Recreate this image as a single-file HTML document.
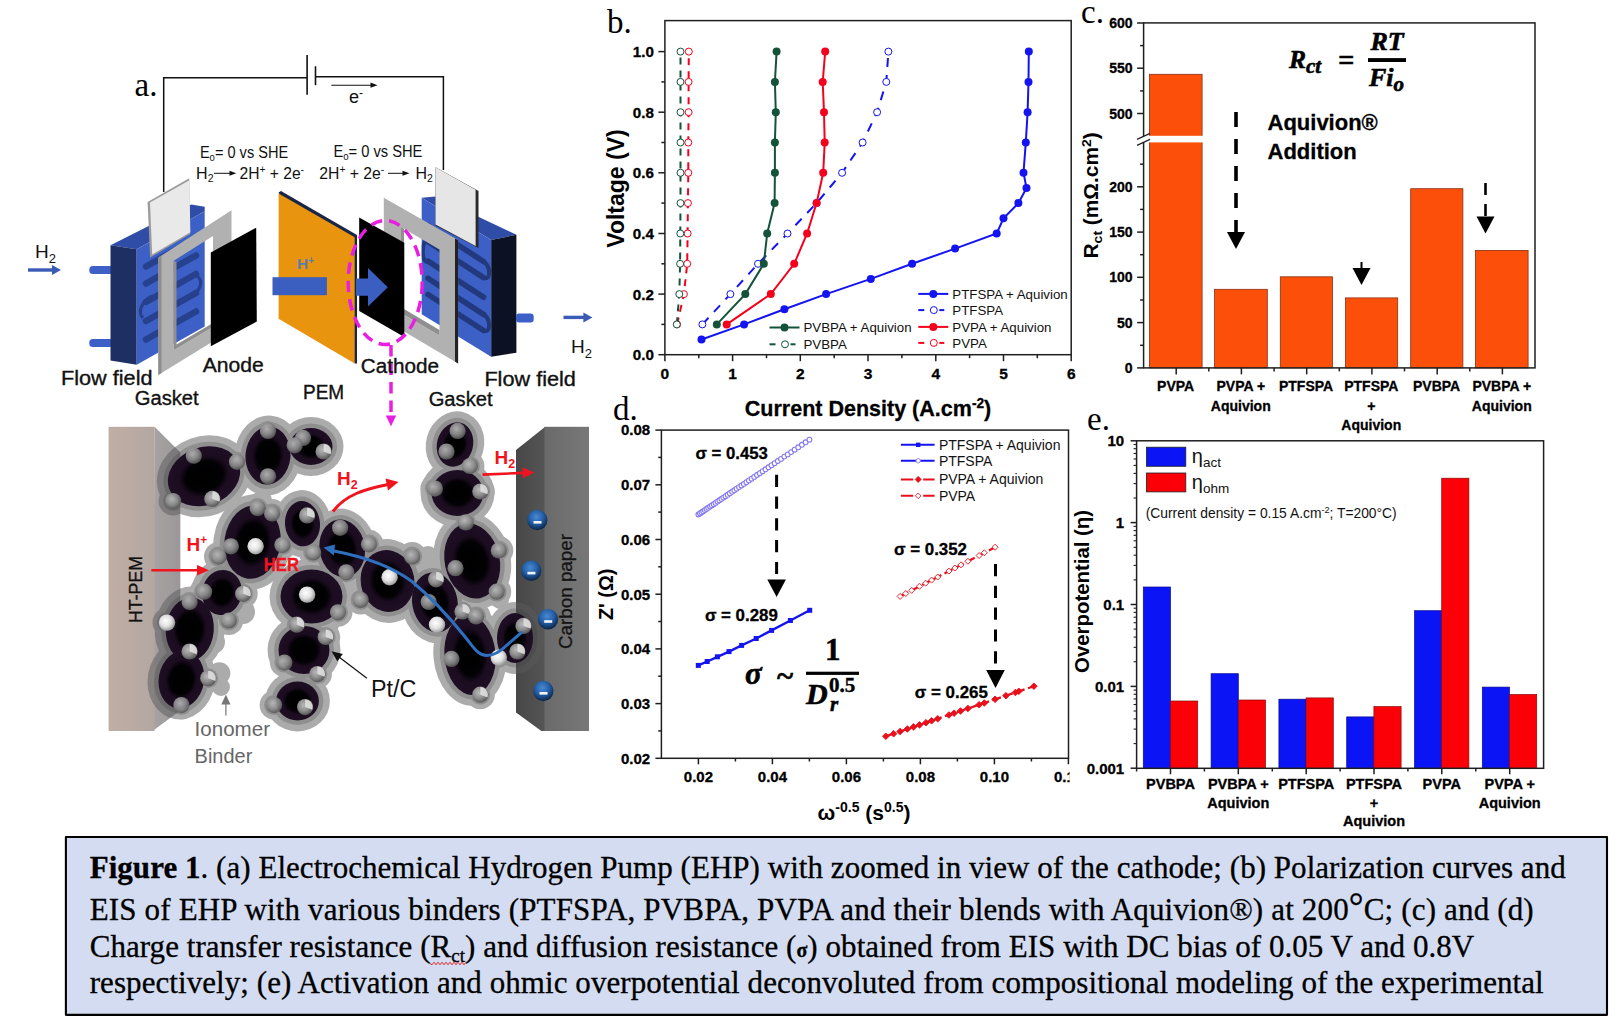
<!DOCTYPE html>
<html lang="en"><head><meta charset="utf-8"><title>Figure 1</title>
<style>
html,body{margin:0;padding:0;background:#fff;}
body{width:1617px;height:1019px;overflow:hidden;font-family:"Liberation Sans", sans-serif;}
svg{display:block;}
text{white-space:pre;}
</style></head><body>
<svg width="1617" height="1019" viewBox="0 0 1617 1019">
<rect x="0" y="0" width="1617" height="1019" fill="#ffffff"/>
<g id="panel-a">
<defs>
<radialGradient id="gC" cx="50%" cy="50%" r="50%"><stop offset="0" stop-color="#000"/><stop offset="0.5" stop-color="#020103"/><stop offset="0.68" stop-color="#1b0c20"/><stop offset="1" stop-color="#1f0f24"/></radialGradient>
<radialGradient id="gPt" cx="42%" cy="38%" r="60%"><stop offset="0" stop-color="#b9b9b9"/><stop offset="0.6" stop-color="#8d8d8d"/><stop offset="1" stop-color="#5c5c5c"/></radialGradient>
<radialGradient id="gPtB" cx="42%" cy="40%" r="60%"><stop offset="0" stop-color="#ffffff"/><stop offset="0.55" stop-color="#e2e2e2"/><stop offset="1" stop-color="#9a9a9a"/></radialGradient>
<radialGradient id="gE" cx="45%" cy="35%" r="65%"><stop offset="0" stop-color="#4a89d2"/><stop offset="0.5" stop-color="#2562ab"/><stop offset="1" stop-color="#0b2446"/></radialGradient>
<linearGradient id="gHT" x1="0" x2="1" y1="0" y2="0"><stop offset="0" stop-color="#c0aea4"/><stop offset="1" stop-color="#b3a7a2"/></linearGradient>
<linearGradient id="gHTs" x1="0" x2="1" y1="0" y2="0"><stop offset="0" stop-color="#a8a3a2"/><stop offset="1" stop-color="#9b9799"/></linearGradient>
<linearGradient id="gCP" x1="0" x2="1" y1="0" y2="0"><stop offset="0" stop-color="#6a6a6a"/><stop offset="1" stop-color="#787878"/></linearGradient>
<linearGradient id="gCPs" x1="0" x2="1" y1="0" y2="0"><stop offset="0" stop-color="#474747"/><stop offset="1" stop-color="#555555"/></linearGradient>
</defs>
<text x="134.5" y="95.7" font-size="33" font-weight="normal" text-anchor="start" fill="#000" font-family='"Liberation Serif", serif' >a.</text>
<polyline points="163.7,192 163.7,77.8 307.1,77.8" fill="none" stroke="#111" stroke-width="1.5"/>
<polyline points="315.5,76.8 443.4,76.8 443.4,170" fill="none" stroke="#111" stroke-width="1.5"/>
<line x1="307.1" y1="55.1" x2="307.1" y2="94.7" stroke="#111" stroke-width="1.6" />
<line x1="315.5" y1="66.3" x2="315.5" y2="85.2" stroke="#111" stroke-width="1.6" />
<line x1="331.3" y1="85.2" x2="372.0" y2="85.2" stroke="#111" stroke-width="1.1" />
<polygon points="377.6,85.2 370.5,82.6 370.5,87.8" fill="#111" />
<text x="349" y="103" font-size="18" font-family='"Liberation Sans", sans-serif' fill="#111">e<tspan dy="-6" font-size="12">-</tspan></text>
<text x="199.9" y="158.4" font-size="16" font-family='"Liberation Sans", sans-serif' fill="#111" textLength="88.3" lengthAdjust="spacingAndGlyphs">E<tspan dy="3" font-size="10.5">o</tspan><tspan dy="-3">= 0 vs SHE</tspan></text>
<text x="333.4" y="156.7" font-size="16" font-family='"Liberation Sans", sans-serif' fill="#111" textLength="89" lengthAdjust="spacingAndGlyphs">E<tspan dy="3" font-size="10.5">o</tspan><tspan dy="-3">= 0 vs SHE</tspan></text>
<text x="196.1" y="178.8" font-size="16" font-family='"Liberation Sans", sans-serif' fill="#111">H<tspan dy="3.5" font-size="10.5">2</tspan></text>
<line x1="214.0" y1="173.3" x2="231.0" y2="173.3" stroke="#111" stroke-width="1.0" />
<polygon points="236.3,173.3 229.5,170.8 229.5,175.8" fill="#111" />
<text x="239.5" y="178.8" font-size="16" font-family='"Liberation Sans", sans-serif' fill="#111" textLength="64.5" lengthAdjust="spacingAndGlyphs">2H<tspan dy="-5.5" font-size="10.5">+</tspan><tspan dy="5.5"> + 2e</tspan><tspan dy="-5.5" font-size="10.5">-</tspan></text>
<text x="319.3" y="178.8" font-size="16" font-family='"Liberation Sans", sans-serif' fill="#111" textLength="65" lengthAdjust="spacingAndGlyphs">2H<tspan dy="-5.5" font-size="10.5">+</tspan><tspan dy="5.5"> + 2e</tspan><tspan dy="-5.5" font-size="10.5">-</tspan></text>
<line x1="388.0" y1="173.3" x2="404.0" y2="173.3" stroke="#111" stroke-width="1.0" />
<polygon points="409.5,173.3 402.5,170.8 402.5,175.8" fill="#111" />
<text x="415.5" y="178.8" font-size="16" font-family='"Liberation Sans", sans-serif' fill="#111">H<tspan dy="3.5" font-size="10.5">2</tspan></text>
<rect x="89.3" y="265.9" width="24" height="8" rx="3.5" fill="#3c60c6"/>
<rect x="89.3" y="339.1" width="24" height="8" rx="3.5" fill="#3c60c6"/>
<polygon points="110.5,245.2 191.3,204.6 204.7,206.7 204.7,211.2 136.7,249.3" fill="#2f4da6" />
<polygon points="110.5,245.2 136.7,249.3 136.7,364.7 110.5,360.6" fill="#1d2f63" />
<polygon points="136.7,249.3 204.7,211.2 204.7,326.6 136.7,364.7" fill="#3c60c6" />
<line x1="146" y1="266.5" x2="196" y2="238.5" stroke="#27418f" stroke-width="6.5" stroke-linecap="round"/>
<line x1="146" y1="283.5" x2="196" y2="255.5" stroke="#27418f" stroke-width="6.5" stroke-linecap="round"/>
<line x1="146" y1="302" x2="196" y2="274" stroke="#27418f" stroke-width="6.5" stroke-linecap="round"/>
<line x1="146" y1="321" x2="196" y2="293" stroke="#27418f" stroke-width="6.5" stroke-linecap="round"/>
<line x1="146" y1="339.5" x2="196" y2="311.5" stroke="#27418f" stroke-width="6.5" stroke-linecap="round"/>
<path d="M143,318 C137,312 142,301 152,296" fill="none" stroke="#27418f" stroke-width="3.2"/>
<path d="M197,276 C204,281 200,291 192,296" fill="none" stroke="#27418f" stroke-width="3.2"/>
<polygon points="147.6,201.9 189.2,178.2 190.2,233.9 150.1,257.6" fill="#9c9c9c" />
<polygon points="150.0,202.6 189.4,180.2 190.3,232.2 152.2,254.6" fill="#e9e9e9" />
<path d="M158.3,257.6 L231.5,210.2 L231.5,330 L158.3,375 Z M173.8,260.7 L173.8,350.3 L213,327 L213,236 Z" fill="#b1b1b1" fill-rule="evenodd"/>
<path d="M158.3,257.6 L161.5,255.5 L161.5,373 L158.3,375 Z" fill="#8d8d8d"/>
<path d="M173.8,350.3 L213,327 L213,323 L176.5,344.5 L176.5,262 L173.8,260.7 Z" fill="#8f8f8f"/>
<polygon points="210.8,252.4 256.2,227.7 256.8,321.5 210.8,346.2" fill="#000" />
<polygon points="278.6,192.4 281.0,191.0 357.0,235.0 357.0,363.5 354.7,363.5" fill="#1a2647" />
<polygon points="278.6,193.6 354.7,237.3 354.7,363.5 278.6,318.8" fill="#e8940e" />
<rect x="272.5" y="277.2" width="54.4" height="18" fill="#3b5fc0"/>
<text x="297" y="269" font-size="15.5" font-weight="bold" font-family='"Liberation Sans", sans-serif' fill="#5d7cab">H<tspan dy="-5" font-size="10">+</tspan></text>
<polygon points="421.7,197.7 435.5,196.4 516.4,234.8 491.2,240.1" fill="#2f4da6" />
<polygon points="421.7,197.7 491.2,240.1 491.2,356.7 421.7,314.3" fill="#3c60c6" />
<polygon points="491.2,240.1 516.4,234.8 516.4,352.8 491.2,356.7" fill="#0c1224" />
<clipPath id="clipRF"><polygon points="421.7,197.7 491.2,240.1 491.2,356.7 421.7,314.3"/></clipPath>
<g clip-path="url(#clipRF)">
<line x1="428" y1="225.5" x2="483.5" y2="261.5" stroke="#22397d" stroke-width="5.6" stroke-linecap="round"/>
<line x1="428" y1="241.6" x2="483.5" y2="277.6" stroke="#22397d" stroke-width="5.6" stroke-linecap="round"/>
<line x1="428" y1="261.2" x2="483.5" y2="297.2" stroke="#22397d" stroke-width="5.6" stroke-linecap="round"/>
<line x1="428" y1="278.3" x2="483.5" y2="314.3" stroke="#22397d" stroke-width="5.6" stroke-linecap="round"/>
<line x1="428" y1="294.5" x2="483.5" y2="330.5" stroke="#22397d" stroke-width="5.6" stroke-linecap="round"/>
<path d="M483.5,261.5 C491,266.3 491,281.3 483.5,277.7" fill="none" stroke="#22397d" stroke-width="4"/>
<path d="M483.5,314.3 C491,319.1 491,334.1 483.5,330.5" fill="none" stroke="#22397d" stroke-width="4"/>
<path d="M428,241.6 C421,237.4 421,265.0 428,261.2" fill="none" stroke="#22397d" stroke-width="4"/>
</g>
<rect x="516" y="313.6" width="17.7" height="8.8" rx="3" fill="#3c60c6"/>
<polygon points="435.5,167.2 478.5,191.1 478.5,248.1 435.5,225.5" fill="#2a2a2a" />
<polygon points="435.5,167.2 475.6,189.7 475.6,246.0 435.5,224.6" fill="#e6e6e6" />
<path d="M383.8,197.7 L458.1,240.1 L458.1,363.4 L383.8,319.6 Z M401,227 L401,313 L439.5,335.5 L439.5,249.4 Z" fill="#b1b1b1" fill-rule="evenodd"/>
<path d="M455.0,238.4 L458.1,240.1 L458.1,363.4 L455.0,361.6 Z" fill="#222"/>
<path d="M401,227 L404,228.8 L404,309 L439.5,330 L439.5,335.5 L401,313 Z" fill="#8f8f8f"/>
<polygon points="359.2,217.6 404.3,242.8 404.3,336.9 359.2,311.1" fill="#000" />
<polygon points="356.0,278.5 368.0,278.5 368.0,268.0 387.8,287.3 368.0,306.4 368.0,295.8 356.0,295.8" fill="#3b5fc0" />
<ellipse cx="385.2" cy="282.5" rx="37" ry="62" fill="none" stroke="#e81fe0" stroke-width="3.5" stroke-dasharray="11.5 7"/>
<line x1="391" y1="345" x2="391" y2="416" stroke="#e81fe0" stroke-width="3.5" stroke-dasharray="11.5 7"/>
<polygon points="385.8,415.5 396.2,415.5 391.0,426.3" fill="#e81fe0" />
<rect x="28" y="268.3" width="26" height="3.4" fill="#3a5cb5"/>
<polygon points="52.0,265.0 61.0,270.0 52.0,275.0" fill="#3a5cb5" />
<rect x="563.5" y="315.7" width="21.899999999999977" height="3.4" fill="#3a5cb5"/>
<polygon points="583.4,312.4 592.4,317.4 583.4,322.4" fill="#3a5cb5" />
<text x="35" y="257.6" font-size="19" font-family='"Liberation Sans", sans-serif' fill="#111">H<tspan dy="5" font-size="13">2</tspan></text>
<text x="571" y="352.5" font-size="19" font-family='"Liberation Sans", sans-serif' fill="#111">H<tspan dy="5" font-size="13">2</tspan></text>
<text x="61.0" y="384.6" font-size="19.5" font-weight="normal" text-anchor="start" fill="#111" font-family='"Liberation Sans", sans-serif' textLength="91.5" lengthAdjust="spacingAndGlyphs" stroke="#111" stroke-width="0.35">Flow field</text>
<text x="134.8" y="404.8" font-size="19.5" font-weight="normal" text-anchor="start" fill="#111" font-family='"Liberation Sans", sans-serif' textLength="63.9" lengthAdjust="spacingAndGlyphs" stroke="#111" stroke-width="0.35">Gasket</text>
<text x="202.8" y="372.2" font-size="19.5" font-weight="normal" text-anchor="start" fill="#111" font-family='"Liberation Sans", sans-serif' textLength="61.0" lengthAdjust="spacingAndGlyphs" stroke="#111" stroke-width="0.35">Anode</text>
<text x="303.0" y="399.0" font-size="19.5" font-weight="normal" text-anchor="start" fill="#111" font-family='"Liberation Sans", sans-serif' textLength="41.2" lengthAdjust="spacingAndGlyphs" stroke="#111" stroke-width="0.35">PEM</text>
<text x="360.7" y="373.0" font-size="19.5" font-weight="normal" text-anchor="start" fill="#111" font-family='"Liberation Sans", sans-serif' textLength="78.3" lengthAdjust="spacingAndGlyphs" stroke="#111" stroke-width="0.35">Cathode</text>
<text x="428.7" y="406.0" font-size="19.5" font-weight="normal" text-anchor="start" fill="#111" font-family='"Liberation Sans", sans-serif' textLength="63.9" lengthAdjust="spacingAndGlyphs" stroke="#111" stroke-width="0.35">Gasket</text>
<text x="484.4" y="386.3" font-size="19.5" font-weight="normal" text-anchor="start" fill="#111" font-family='"Liberation Sans", sans-serif' textLength="91.5" lengthAdjust="spacingAndGlyphs" stroke="#111" stroke-width="0.35">Flow field</text>
</g>
<g id="panel-a-cathode">
<polygon points="154.6,426.8 180.3,452.5 180.3,710.5 152.6,731.0" fill="url(#gHTs)" />
<rect x="108.6" y="426.8" width="46" height="304.2" fill="url(#gHT)"/>
<polygon points="545.2,426.8 516.0,450.0 516.0,712.4 541.4,731.0 545.2,731.0" fill="url(#gCPs)" />
<rect x="544.5" y="426.8" width="44.5" height="304.2" fill="url(#gCP)"/>
<g opacity="0.50">
<ellipse cx="204" cy="476.3" rx="48" ry="40" transform="rotate(-20 204 476.3)" fill="#5a5a5c"/>
<ellipse cx="268" cy="455.5" rx="33.5" ry="40" transform="rotate(5 268 455.5)" fill="#5a5a5c"/>
<ellipse cx="311" cy="446.5" rx="32.5" ry="29.5" transform="rotate(0 311 446.5)" fill="#5a5a5c"/>
<ellipse cx="252.5" cy="542" rx="39" ry="48" transform="rotate(8 252.5 542)" fill="#5a5a5c"/>
<ellipse cx="302.5" cy="523.7" rx="28.5" ry="33.7" transform="rotate(-5 302.5 523.7)" fill="#5a5a5c"/>
<ellipse cx="342.2" cy="548.4" rx="33.7" ry="40" transform="rotate(-10 342.2 548.4)" fill="#5a5a5c"/>
<ellipse cx="222" cy="592.5" rx="30.8" ry="33.7" transform="rotate(10 222 592.5)" fill="#5a5a5c"/>
<ellipse cx="189.8" cy="629.5" rx="35" ry="43" transform="rotate(5 189.8 629.5)" fill="#5a5a5c"/>
<ellipse cx="181.4" cy="679.5" rx="33.7" ry="40" transform="rotate(10 181.4 679.5)" fill="#5a5a5c"/>
<ellipse cx="311.5" cy="596.5" rx="42" ry="38" transform="rotate(0 311.5 596.5)" fill="#5a5a5c"/>
<ellipse cx="304" cy="650" rx="36.5" ry="35" transform="rotate(0 304 650)" fill="#5a5a5c"/>
<ellipse cx="297.5" cy="701" rx="32.4" ry="30.4" transform="rotate(0 297.5 701)" fill="#5a5a5c"/>
<ellipse cx="387.5" cy="581" rx="37.8" ry="42" transform="rotate(-10 387.5 581)" fill="#5a5a5c"/>
<ellipse cx="434.9" cy="602.4" rx="33.7" ry="41" transform="rotate(-10 434.9 602.4)" fill="#5a5a5c"/>
<ellipse cx="470" cy="655" rx="36.6" ry="51" transform="rotate(-5 470 655)" fill="#5a5a5c"/>
<ellipse cx="515" cy="638" rx="29" ry="36" transform="rotate(0 515 638)" fill="#5a5a5c"/>
<ellipse cx="455" cy="444.5" rx="29" ry="33.4" transform="rotate(15 455 444.5)" fill="#5a5a5c"/>
<ellipse cx="457.5" cy="493" rx="37" ry="34" transform="rotate(0 457.5 493)" fill="#5a5a5c"/>
<ellipse cx="472.2" cy="561" rx="38.5" ry="49" transform="rotate(-12 472.2 561)" fill="#5a5a5c"/>
<circle cx="268.0" cy="430.9" r="14.5" fill="#5a5a5c"/>
<circle cx="303.0" cy="437.9" r="14.5" fill="#5a5a5c"/>
<circle cx="323.6" cy="451.5" r="14.5" fill="#5a5a5c"/>
<circle cx="237.0" cy="461.8" r="14.5" fill="#5a5a5c"/>
<circle cx="268.0" cy="476.3" r="14.5" fill="#5a5a5c"/>
<circle cx="193.8" cy="455.7" r="14.5" fill="#5a5a5c"/>
<circle cx="173.1" cy="501.0" r="14.5" fill="#5a5a5c"/>
<circle cx="212.3" cy="498.9" r="14.5" fill="#5a5a5c"/>
<circle cx="257.6" cy="508.0" r="14.5" fill="#5a5a5c"/>
<circle cx="272.1" cy="513.4" r="14.5" fill="#5a5a5c"/>
<circle cx="307.1" cy="515.4" r="14.5" fill="#5a5a5c"/>
<circle cx="340.1" cy="527.8" r="14.5" fill="#5a5a5c"/>
<circle cx="255.6" cy="546.3" r="14.5" fill="#5a5a5c"/>
<circle cx="282.4" cy="545.1" r="14.5" fill="#5a5a5c"/>
<circle cx="230.9" cy="546.3" r="14.5" fill="#5a5a5c"/>
<circle cx="218.5" cy="556.6" r="14.5" fill="#5a5a5c"/>
<circle cx="313.3" cy="552.5" r="14.5" fill="#5a5a5c"/>
<circle cx="346.3" cy="572.3" r="14.5" fill="#5a5a5c"/>
<circle cx="307.1" cy="594.6" r="14.5" fill="#5a5a5c"/>
<circle cx="360.7" cy="599.9" r="14.5" fill="#5a5a5c"/>
<circle cx="389.6" cy="577.3" r="14.5" fill="#5a5a5c"/>
<circle cx="412.2" cy="556.6" r="14.5" fill="#5a5a5c"/>
<circle cx="369.0" cy="544.3" r="14.5" fill="#5a5a5c"/>
<circle cx="457.6" cy="430.9" r="14.5" fill="#5a5a5c"/>
<circle cx="446.5" cy="451.5" r="14.5" fill="#5a5a5c"/>
<circle cx="434.9" cy="488.6" r="14.5" fill="#5a5a5c"/>
<circle cx="480.3" cy="491.5" r="14.5" fill="#5a5a5c"/>
<circle cx="465.8" cy="522.4" r="14.5" fill="#5a5a5c"/>
<circle cx="498.8" cy="550.5" r="14.5" fill="#5a5a5c"/>
<circle cx="455.5" cy="568.2" r="14.5" fill="#5a5a5c"/>
<circle cx="496.7" cy="591.7" r="14.5" fill="#5a5a5c"/>
<circle cx="436.1" cy="579.3" r="14.5" fill="#5a5a5c"/>
<circle cx="437.0" cy="624.7" r="14.5" fill="#5a5a5c"/>
<circle cx="462.5" cy="611.5" r="14.5" fill="#5a5a5c"/>
<circle cx="476.1" cy="616.4" r="14.5" fill="#5a5a5c"/>
<circle cx="451.4" cy="658.9" r="14.5" fill="#5a5a5c"/>
<circle cx="498.8" cy="657.6" r="14.5" fill="#5a5a5c"/>
<circle cx="480.3" cy="694.7" r="14.5" fill="#5a5a5c"/>
<circle cx="523.5" cy="625.9" r="14.5" fill="#5a5a5c"/>
<circle cx="517.4" cy="651.5" r="14.5" fill="#5a5a5c"/>
<circle cx="243.2" cy="593.8" r="14.5" fill="#5a5a5c"/>
<circle cx="204.1" cy="591.7" r="14.5" fill="#5a5a5c"/>
<circle cx="189.6" cy="602.0" r="14.5" fill="#5a5a5c"/>
<circle cx="228.8" cy="620.5" r="14.5" fill="#5a5a5c"/>
<circle cx="167.0" cy="622.6" r="14.5" fill="#5a5a5c"/>
<circle cx="189.6" cy="651.5" r="14.5" fill="#5a5a5c"/>
<circle cx="208.2" cy="678.3" r="14.5" fill="#5a5a5c"/>
<circle cx="181.4" cy="705.1" r="14.5" fill="#5a5a5c"/>
<circle cx="325.7" cy="637.0" r="14.5" fill="#5a5a5c"/>
<circle cx="296.8" cy="624.7" r="14.5" fill="#5a5a5c"/>
<circle cx="338.0" cy="612.3" r="14.5" fill="#5a5a5c"/>
<circle cx="284.4" cy="662.6" r="14.5" fill="#5a5a5c"/>
<circle cx="317.4" cy="674.1" r="14.5" fill="#5a5a5c"/>
<circle cx="305.1" cy="707.1" r="14.5" fill="#5a5a5c"/>
<circle cx="274.1" cy="705.1" r="14.5" fill="#5a5a5c"/>
<circle cx="428.7" cy="602.0" r="14.5" fill="#5a5a5c"/>
<circle cx="294.7" cy="445.3" r="14.5" fill="#5a5a5c"/>
<circle cx="469.9" cy="466.0" r="14.5" fill="#5a5a5c"/>
<circle cx="219.4" cy="673.3" r="11" fill="#5a5a5c"/>
<circle cx="213" cy="642" r="12" fill="#5a5a5c"/>
<circle cx="221" cy="687" r="9" fill="#5a5a5c"/>
<circle cx="243" cy="612" r="12" fill="#5a5a5c"/>
<circle cx="262" cy="500" r="10" fill="#5a5a5c"/>
<circle cx="428" cy="556" r="10" fill="#5a5a5c"/>
<circle cx="500" cy="600" r="9" fill="#5a5a5c"/>
<circle cx="330" cy="625" r="9" fill="#5a5a5c"/>
</g>
<g opacity="0.24">
<ellipse cx="204" cy="476.3" rx="41.5" ry="33.5" transform="rotate(-20 204 476.3)" fill="#3a3a3c"/>
<ellipse cx="268" cy="455.5" rx="27.0" ry="33.5" transform="rotate(5 268 455.5)" fill="#3a3a3c"/>
<ellipse cx="311" cy="446.5" rx="26.0" ry="23.0" transform="rotate(0 311 446.5)" fill="#3a3a3c"/>
<ellipse cx="252.5" cy="542" rx="32.5" ry="41.5" transform="rotate(8 252.5 542)" fill="#3a3a3c"/>
<ellipse cx="302.5" cy="523.7" rx="22.0" ry="27.2" transform="rotate(-5 302.5 523.7)" fill="#3a3a3c"/>
<ellipse cx="342.2" cy="548.4" rx="27.2" ry="33.5" transform="rotate(-10 342.2 548.4)" fill="#3a3a3c"/>
<ellipse cx="222" cy="592.5" rx="24.3" ry="27.2" transform="rotate(10 222 592.5)" fill="#3a3a3c"/>
<ellipse cx="189.8" cy="629.5" rx="28.5" ry="36.5" transform="rotate(5 189.8 629.5)" fill="#3a3a3c"/>
<ellipse cx="181.4" cy="679.5" rx="27.2" ry="33.5" transform="rotate(10 181.4 679.5)" fill="#3a3a3c"/>
<ellipse cx="311.5" cy="596.5" rx="35.5" ry="31.5" transform="rotate(0 311.5 596.5)" fill="#3a3a3c"/>
<ellipse cx="304" cy="650" rx="30.0" ry="28.5" transform="rotate(0 304 650)" fill="#3a3a3c"/>
<ellipse cx="297.5" cy="701" rx="25.9" ry="23.9" transform="rotate(0 297.5 701)" fill="#3a3a3c"/>
<ellipse cx="387.5" cy="581" rx="31.3" ry="35.5" transform="rotate(-10 387.5 581)" fill="#3a3a3c"/>
<ellipse cx="434.9" cy="602.4" rx="27.2" ry="34.5" transform="rotate(-10 434.9 602.4)" fill="#3a3a3c"/>
<ellipse cx="470" cy="655" rx="30.1" ry="44.5" transform="rotate(-5 470 655)" fill="#3a3a3c"/>
<ellipse cx="515" cy="638" rx="22.5" ry="29.5" transform="rotate(0 515 638)" fill="#3a3a3c"/>
<ellipse cx="455" cy="444.5" rx="22.5" ry="26.9" transform="rotate(15 455 444.5)" fill="#3a3a3c"/>
<ellipse cx="457.5" cy="493" rx="30.5" ry="27.5" transform="rotate(0 457.5 493)" fill="#3a3a3c"/>
<ellipse cx="472.2" cy="561" rx="32.0" ry="42.5" transform="rotate(-12 472.2 561)" fill="#3a3a3c"/>
<circle cx="268.0" cy="430.9" r="10" fill="#3a3a3c"/>
<circle cx="303.0" cy="437.9" r="10" fill="#3a3a3c"/>
<circle cx="323.6" cy="451.5" r="10" fill="#3a3a3c"/>
<circle cx="237.0" cy="461.8" r="10" fill="#3a3a3c"/>
<circle cx="268.0" cy="476.3" r="10" fill="#3a3a3c"/>
<circle cx="193.8" cy="455.7" r="10" fill="#3a3a3c"/>
<circle cx="173.1" cy="501.0" r="10" fill="#3a3a3c"/>
<circle cx="212.3" cy="498.9" r="10" fill="#3a3a3c"/>
<circle cx="257.6" cy="508.0" r="10" fill="#3a3a3c"/>
<circle cx="272.1" cy="513.4" r="10" fill="#3a3a3c"/>
<circle cx="307.1" cy="515.4" r="10" fill="#3a3a3c"/>
<circle cx="340.1" cy="527.8" r="10" fill="#3a3a3c"/>
<circle cx="255.6" cy="546.3" r="10" fill="#3a3a3c"/>
<circle cx="282.4" cy="545.1" r="10" fill="#3a3a3c"/>
<circle cx="230.9" cy="546.3" r="10" fill="#3a3a3c"/>
<circle cx="218.5" cy="556.6" r="10" fill="#3a3a3c"/>
<circle cx="313.3" cy="552.5" r="10" fill="#3a3a3c"/>
<circle cx="346.3" cy="572.3" r="10" fill="#3a3a3c"/>
<circle cx="307.1" cy="594.6" r="10" fill="#3a3a3c"/>
<circle cx="360.7" cy="599.9" r="10" fill="#3a3a3c"/>
<circle cx="389.6" cy="577.3" r="10" fill="#3a3a3c"/>
<circle cx="412.2" cy="556.6" r="10" fill="#3a3a3c"/>
<circle cx="369.0" cy="544.3" r="10" fill="#3a3a3c"/>
<circle cx="457.6" cy="430.9" r="10" fill="#3a3a3c"/>
<circle cx="446.5" cy="451.5" r="10" fill="#3a3a3c"/>
<circle cx="434.9" cy="488.6" r="10" fill="#3a3a3c"/>
<circle cx="480.3" cy="491.5" r="10" fill="#3a3a3c"/>
<circle cx="465.8" cy="522.4" r="10" fill="#3a3a3c"/>
<circle cx="498.8" cy="550.5" r="10" fill="#3a3a3c"/>
<circle cx="455.5" cy="568.2" r="10" fill="#3a3a3c"/>
<circle cx="496.7" cy="591.7" r="10" fill="#3a3a3c"/>
<circle cx="436.1" cy="579.3" r="10" fill="#3a3a3c"/>
<circle cx="437.0" cy="624.7" r="10" fill="#3a3a3c"/>
<circle cx="462.5" cy="611.5" r="10" fill="#3a3a3c"/>
<circle cx="476.1" cy="616.4" r="10" fill="#3a3a3c"/>
<circle cx="451.4" cy="658.9" r="10" fill="#3a3a3c"/>
<circle cx="498.8" cy="657.6" r="10" fill="#3a3a3c"/>
<circle cx="480.3" cy="694.7" r="10" fill="#3a3a3c"/>
<circle cx="523.5" cy="625.9" r="10" fill="#3a3a3c"/>
<circle cx="517.4" cy="651.5" r="10" fill="#3a3a3c"/>
<circle cx="243.2" cy="593.8" r="10" fill="#3a3a3c"/>
<circle cx="204.1" cy="591.7" r="10" fill="#3a3a3c"/>
<circle cx="189.6" cy="602.0" r="10" fill="#3a3a3c"/>
<circle cx="228.8" cy="620.5" r="10" fill="#3a3a3c"/>
<circle cx="167.0" cy="622.6" r="10" fill="#3a3a3c"/>
<circle cx="189.6" cy="651.5" r="10" fill="#3a3a3c"/>
<circle cx="208.2" cy="678.3" r="10" fill="#3a3a3c"/>
<circle cx="181.4" cy="705.1" r="10" fill="#3a3a3c"/>
<circle cx="325.7" cy="637.0" r="10" fill="#3a3a3c"/>
<circle cx="296.8" cy="624.7" r="10" fill="#3a3a3c"/>
<circle cx="338.0" cy="612.3" r="10" fill="#3a3a3c"/>
<circle cx="284.4" cy="662.6" r="10" fill="#3a3a3c"/>
<circle cx="317.4" cy="674.1" r="10" fill="#3a3a3c"/>
<circle cx="305.1" cy="707.1" r="10" fill="#3a3a3c"/>
<circle cx="274.1" cy="705.1" r="10" fill="#3a3a3c"/>
<circle cx="428.7" cy="602.0" r="10" fill="#3a3a3c"/>
<circle cx="294.7" cy="445.3" r="10" fill="#3a3a3c"/>
<circle cx="469.9" cy="466.0" r="10" fill="#3a3a3c"/>
</g>
<ellipse cx="204" cy="476.3" rx="37" ry="29" transform="rotate(-20 204 476.3)" fill="url(#gC)"/>
<ellipse cx="268" cy="455.5" rx="22.5" ry="29" transform="rotate(5 268 455.5)" fill="url(#gC)"/>
<ellipse cx="311" cy="446.5" rx="21.5" ry="18.5" transform="rotate(0 311 446.5)" fill="url(#gC)"/>
<ellipse cx="252.5" cy="542" rx="28" ry="37" transform="rotate(8 252.5 542)" fill="url(#gC)"/>
<ellipse cx="302.5" cy="523.7" rx="17.5" ry="22.7" transform="rotate(-5 302.5 523.7)" fill="url(#gC)"/>
<ellipse cx="342.2" cy="548.4" rx="22.7" ry="29" transform="rotate(-10 342.2 548.4)" fill="url(#gC)"/>
<ellipse cx="222" cy="592.5" rx="19.8" ry="22.7" transform="rotate(10 222 592.5)" fill="url(#gC)"/>
<ellipse cx="189.8" cy="629.5" rx="24" ry="32" transform="rotate(5 189.8 629.5)" fill="url(#gC)"/>
<ellipse cx="181.4" cy="679.5" rx="22.7" ry="29" transform="rotate(10 181.4 679.5)" fill="url(#gC)"/>
<ellipse cx="311.5" cy="596.5" rx="31" ry="27" transform="rotate(0 311.5 596.5)" fill="url(#gC)"/>
<ellipse cx="304" cy="650" rx="25.5" ry="24" transform="rotate(0 304 650)" fill="url(#gC)"/>
<ellipse cx="297.5" cy="701" rx="21.4" ry="19.4" transform="rotate(0 297.5 701)" fill="url(#gC)"/>
<ellipse cx="387.5" cy="581" rx="26.8" ry="31" transform="rotate(-10 387.5 581)" fill="url(#gC)"/>
<ellipse cx="434.9" cy="602.4" rx="22.7" ry="30" transform="rotate(-10 434.9 602.4)" fill="url(#gC)"/>
<ellipse cx="470" cy="655" rx="25.6" ry="40" transform="rotate(-5 470 655)" fill="url(#gC)"/>
<ellipse cx="515" cy="638" rx="18" ry="25" transform="rotate(0 515 638)" fill="url(#gC)"/>
<ellipse cx="455" cy="444.5" rx="18" ry="22.4" transform="rotate(15 455 444.5)" fill="url(#gC)"/>
<ellipse cx="457.5" cy="493" rx="26" ry="23" transform="rotate(0 457.5 493)" fill="url(#gC)"/>
<ellipse cx="472.2" cy="561" rx="27.5" ry="38" transform="rotate(-12 472.2 561)" fill="url(#gC)"/>
<circle cx="268.0" cy="430.9" r="8.1" fill="url(#gPt)" opacity="0.92"/>
<circle cx="303.0" cy="437.9" r="8.1" fill="url(#gPt)" opacity="0.92"/>
<circle cx="323.6" cy="451.5" r="8.1" fill="url(#gPt)"/>
<path d="M323.6,443.9 A7.6,7.6 0 0 1 330.7,454.2 L323.6,451.5 Z" fill="#e4e4e4" opacity="0.85"/>
<circle cx="237.0" cy="461.8" r="8.1" fill="url(#gPt)" opacity="0.92"/>
<circle cx="268.0" cy="476.3" r="8.1" fill="url(#gPt)" opacity="0.92"/>
<circle cx="193.8" cy="455.7" r="8.1" fill="url(#gPt)" opacity="0.92"/>
<circle cx="173.1" cy="501.0" r="8.1" fill="url(#gPt)" opacity="0.92"/>
<circle cx="212.3" cy="498.9" r="8.1" fill="url(#gPt)"/>
<path d="M212.3,491.3 A7.6,7.6 0 0 1 219.4,501.6 L212.3,498.9 Z" fill="#e4e4e4" opacity="0.85"/>
<circle cx="257.6" cy="508.0" r="8.1" fill="url(#gPt)" opacity="0.92"/>
<circle cx="272.1" cy="513.4" r="8.1" fill="url(#gPt)" opacity="0.92"/>
<circle cx="307.1" cy="515.4" r="8.1" fill="url(#gPt)"/>
<path d="M307.1,507.8 A7.6,7.6 0 0 1 314.2,518.1 L307.1,515.4 Z" fill="#e4e4e4" opacity="0.85"/>
<circle cx="340.1" cy="527.8" r="8.1" fill="url(#gPt)" opacity="0.92"/>
<circle cx="255.6" cy="546.3" r="8.2" fill="url(#gPtB)"/>
<circle cx="282.4" cy="545.1" r="8.1" fill="url(#gPt)" opacity="0.92"/>
<circle cx="230.9" cy="546.3" r="8.1" fill="url(#gPt)" opacity="0.92"/>
<circle cx="218.5" cy="556.6" r="8.1" fill="url(#gPt)" opacity="0.92"/>
<circle cx="313.3" cy="552.5" r="8.1" fill="url(#gPt)" opacity="0.92"/>
<circle cx="346.3" cy="572.3" r="8.1" fill="url(#gPt)" opacity="0.92"/>
<circle cx="307.1" cy="594.6" r="8.2" fill="url(#gPtB)"/>
<circle cx="360.7" cy="599.9" r="8.1" fill="url(#gPt)" opacity="0.92"/>
<circle cx="389.6" cy="577.3" r="8.2" fill="url(#gPtB)"/>
<circle cx="412.2" cy="556.6" r="8.1" fill="url(#gPt)" opacity="0.92"/>
<circle cx="369.0" cy="544.3" r="8.1" fill="url(#gPt)" opacity="0.92"/>
<circle cx="457.6" cy="430.9" r="8.1" fill="url(#gPt)" opacity="0.92"/>
<circle cx="446.5" cy="451.5" r="8.1" fill="url(#gPt)" opacity="0.92"/>
<circle cx="434.9" cy="488.6" r="8.1" fill="url(#gPt)" opacity="0.92"/>
<circle cx="480.3" cy="491.5" r="8.1" fill="url(#gPt)"/>
<path d="M480.3,483.9 A7.6,7.6 0 0 1 487.4,494.2 L480.3,491.5 Z" fill="#e4e4e4" opacity="0.85"/>
<circle cx="465.8" cy="522.4" r="8.1" fill="url(#gPt)" opacity="0.92"/>
<circle cx="498.8" cy="550.5" r="8.1" fill="url(#gPt)" opacity="0.92"/>
<circle cx="455.5" cy="568.2" r="8.1" fill="url(#gPt)" opacity="0.92"/>
<circle cx="496.7" cy="591.7" r="8.1" fill="url(#gPt)" opacity="0.92"/>
<circle cx="436.1" cy="579.3" r="8.1" fill="url(#gPt)"/>
<path d="M436.1,571.7 A7.6,7.6 0 0 1 443.2,582.0 L436.1,579.3 Z" fill="#e4e4e4" opacity="0.85"/>
<circle cx="437.0" cy="624.7" r="8.2" fill="url(#gPtB)"/>
<circle cx="462.5" cy="611.5" r="8.1" fill="url(#gPt)"/>
<path d="M462.5,603.9 A7.6,7.6 0 0 1 469.6,614.2 L462.5,611.5 Z" fill="#e4e4e4" opacity="0.85"/>
<circle cx="476.1" cy="616.4" r="8.1" fill="url(#gPt)" opacity="0.92"/>
<circle cx="451.4" cy="658.9" r="8.1" fill="url(#gPt)" opacity="0.92"/>
<circle cx="498.8" cy="657.6" r="8.2" fill="url(#gPtB)"/>
<circle cx="480.3" cy="694.7" r="8.1" fill="url(#gPt)"/>
<path d="M480.3,687.1 A7.6,7.6 0 0 1 487.4,697.4 L480.3,694.7 Z" fill="#e4e4e4" opacity="0.85"/>
<circle cx="523.5" cy="625.9" r="8.1" fill="url(#gPt)"/>
<path d="M523.5,618.3 A7.6,7.6 0 0 1 530.6,628.6 L523.5,625.9 Z" fill="#e4e4e4" opacity="0.85"/>
<circle cx="517.4" cy="651.5" r="8.1" fill="url(#gPt)"/>
<path d="M517.4,643.9 A7.6,7.6 0 0 1 524.5,654.2 L517.4,651.5 Z" fill="#e4e4e4" opacity="0.85"/>
<circle cx="243.2" cy="593.8" r="8.1" fill="url(#gPt)"/>
<path d="M243.2,586.2 A7.6,7.6 0 0 1 250.3,596.5 L243.2,593.8 Z" fill="#e4e4e4" opacity="0.85"/>
<circle cx="204.1" cy="591.7" r="8.1" fill="url(#gPt)" opacity="0.92"/>
<circle cx="189.6" cy="602.0" r="8.1" fill="url(#gPt)" opacity="0.92"/>
<circle cx="228.8" cy="620.5" r="8.1" fill="url(#gPt)" opacity="0.92"/>
<circle cx="167.0" cy="622.6" r="8.2" fill="url(#gPtB)"/>
<circle cx="189.6" cy="651.5" r="8.1" fill="url(#gPt)"/>
<path d="M189.6,643.9 A7.6,7.6 0 0 1 196.7,654.2 L189.6,651.5 Z" fill="#e4e4e4" opacity="0.85"/>
<circle cx="208.2" cy="678.3" r="8.1" fill="url(#gPt)"/>
<path d="M208.2,670.7 A7.6,7.6 0 0 1 215.3,681.0 L208.2,678.3 Z" fill="#e4e4e4" opacity="0.85"/>
<circle cx="181.4" cy="705.1" r="8.1" fill="url(#gPt)" opacity="0.92"/>
<circle cx="325.7" cy="637.0" r="8.1" fill="url(#gPt)"/>
<path d="M325.7,629.4 A7.6,7.6 0 0 1 332.8,639.7 L325.7,637.0 Z" fill="#e4e4e4" opacity="0.85"/>
<circle cx="296.8" cy="624.7" r="8.1" fill="url(#gPt)"/>
<path d="M296.8,617.1 A7.6,7.6 0 0 1 303.9,627.4 L296.8,624.7 Z" fill="#e4e4e4" opacity="0.85"/>
<circle cx="338.0" cy="612.3" r="8.1" fill="url(#gPt)" opacity="0.92"/>
<circle cx="284.4" cy="662.6" r="8.1" fill="url(#gPt)" opacity="0.92"/>
<circle cx="317.4" cy="674.1" r="8.1" fill="url(#gPt)"/>
<path d="M317.4,666.5 A7.6,7.6 0 0 1 324.5,676.8 L317.4,674.1 Z" fill="#e4e4e4" opacity="0.85"/>
<circle cx="305.1" cy="707.1" r="8.1" fill="url(#gPt)"/>
<path d="M305.1,699.5 A7.6,7.6 0 0 1 312.2,709.8 L305.1,707.1 Z" fill="#e4e4e4" opacity="0.85"/>
<circle cx="274.1" cy="705.1" r="8.1" fill="url(#gPt)" opacity="0.92"/>
<circle cx="428.7" cy="602.0" r="8.1" fill="url(#gPt)" opacity="0.92"/>
<circle cx="294.7" cy="445.3" r="8.1" fill="url(#gPt)" opacity="0.92"/>
<circle cx="469.9" cy="466.0" r="8.1" fill="url(#gPt)" opacity="0.92"/>
<circle cx="537.3" cy="520" r="10.2" fill="url(#gE)"/>
<rect x="533.5" y="521" width="8" height="2.6" fill="#f4f4f4"/>
<circle cx="531.2" cy="570.8" r="10.2" fill="url(#gE)"/>
<rect x="527.4000000000001" y="571.8" width="8" height="2.6" fill="#f4f4f4"/>
<circle cx="548" cy="619.2" r="10.2" fill="url(#gE)"/>
<rect x="544.2" y="620.2" width="8" height="2.6" fill="#f4f4f4"/>
<circle cx="543.3" cy="691" r="10.2" fill="url(#gE)"/>
<rect x="539.5" y="692" width="8" height="2.6" fill="#f4f4f4"/>
<path d="M521.5,632.5 L507,645 C500,652 494,655.5 487,655.5 C478,655.5 474,648 466,638 C450,618 432,598 412,581.5 C390,565 360,556 334,551" fill="none" stroke="#2f6fc0" stroke-width="3" stroke-linecap="round"/>
<polygon points="323.5,547.6 335.0,544.4 333.8,555.6" fill="#2f6fc0" />
<line x1="151.3" y1="570.3" x2="198.0" y2="570.3" stroke="#f0141e" stroke-width="2.6" />
<polygon points="209.0,570.3 197.0,565.0 197.0,575.6" fill="#f0141e" />
<line x1="482.5" y1="474.6" x2="524.0" y2="472.9" stroke="#f0141e" stroke-width="2.6" />
<polygon points="534.5,472.4 522.5,467.6 523.0,478.3" fill="#f0141e" />
<path d="M333,511.5 C345,495 365,489 388,484.5" fill="none" stroke="#f0141e" stroke-width="3"/>
<polygon points="398.5,482.0 385.5,478.5 388.0,490.5" fill="#f0141e" />
<text x="186.5" y="550.5" font-size="19" font-weight="bold" font-family='"Liberation Sans", sans-serif' fill="#f0141e">H<tspan dy="-7" font-size="12">+</tspan></text>
<text x="263.8" y="571.0" font-size="19" font-weight="bold" text-anchor="start" fill="#f0141e" font-family='"Liberation Sans", sans-serif' stroke="#f0141e" stroke-width="0.3" textLength="35.3" lengthAdjust="spacingAndGlyphs" >HER</text>
<text x="337" y="484.5" font-size="19" font-weight="bold" font-family='"Liberation Sans", sans-serif' fill="#f0141e">H<tspan dy="4.5" font-size="12.5">2</tspan></text>
<text x="494.5" y="463.9" font-size="19" font-weight="bold" font-family='"Liberation Sans", sans-serif' fill="#f0141e">H<tspan dy="4.5" font-size="12.5">2</tspan></text>
<line x1="366.9" y1="678.3" x2="338.0" y2="656.3" stroke="#111" stroke-width="1.2" />
<polygon points="331.5,651.3 342.8,654.0 337.3,661.2" fill="#111" />
<text x="371.0" y="696.8" font-size="23" font-weight="normal" text-anchor="start" fill="#111" font-family='"Liberation Sans", sans-serif' textLength="45.4" lengthAdjust="spacingAndGlyphs" >Pt/C</text>
<line x1="225.9" y1="715.4" x2="225.9" y2="703.0" stroke="#777" stroke-width="1.2" />
<polygon points="225.9,694.5 221.3,704.5 230.5,704.5" fill="#777" />
<text x="194.6" y="736.0" font-size="19.5" font-weight="normal" text-anchor="start" fill="#666" font-family='"Liberation Sans", sans-serif' textLength="75.4" lengthAdjust="spacingAndGlyphs" >Ionomer</text>
<text x="194.6" y="762.8" font-size="19.5" font-weight="normal" text-anchor="start" fill="#666" font-family='"Liberation Sans", sans-serif' textLength="57.7" lengthAdjust="spacingAndGlyphs" >Binder</text>
<text transform="translate(141.9,589.5) rotate(-90)" font-size="19" text-anchor="middle" font-family='"Liberation Sans", sans-serif' fill="#111" stroke="#111" stroke-width="0.35" textLength="67" lengthAdjust="spacingAndGlyphs">HT-PEM</text>
<text transform="translate(571.5,591.5) rotate(-90)" font-size="19" text-anchor="middle" font-family='"Liberation Sans", sans-serif' fill="#141414" stroke="#141414" stroke-width="0.3" textLength="115" lengthAdjust="spacingAndGlyphs">Carbon paper</text>
</g>
<g id="panel-b">
<text x="607.0" y="33.0" font-size="33" font-weight="normal" text-anchor="start" fill="#000" font-family='"Liberation Serif", serif' >b.</text>
<polyline points="677.1,324.4 683.9,294.1 687.2,263.8 687.6,233.5 687.9,203.1 688.3,172.8 688.3,142.5 688.6,112.2 688.6,81.9 688.8,51.6" fill="none" stroke="#f5001d" stroke-width="2" stroke-dasharray="7 6"/>
<circle cx="677.1" cy="324.4" r="3.5" fill="#fff" stroke="#f5001d" stroke-width="1"/>
<circle cx="683.9" cy="294.1" r="3.5" fill="#fff" stroke="#f5001d" stroke-width="1"/>
<circle cx="687.2" cy="263.8" r="3.5" fill="#fff" stroke="#f5001d" stroke-width="1"/>
<circle cx="687.6" cy="233.5" r="3.5" fill="#fff" stroke="#f5001d" stroke-width="1"/>
<circle cx="687.9" cy="203.1" r="3.5" fill="#fff" stroke="#f5001d" stroke-width="1"/>
<circle cx="688.3" cy="172.8" r="3.5" fill="#fff" stroke="#f5001d" stroke-width="1"/>
<circle cx="688.3" cy="142.5" r="3.5" fill="#fff" stroke="#f5001d" stroke-width="1"/>
<circle cx="688.6" cy="112.2" r="3.5" fill="#fff" stroke="#f5001d" stroke-width="1"/>
<circle cx="688.6" cy="81.9" r="3.5" fill="#fff" stroke="#f5001d" stroke-width="1"/>
<circle cx="688.8" cy="51.6" r="3.5" fill="#fff" stroke="#f5001d" stroke-width="1"/>
<polyline points="676.8,324.4 679.3,294.1 680.1,263.8 680.3,233.5 680.5,203.1 680.5,172.8 680.5,142.5 680.5,112.2 680.5,81.9 680.5,51.6" fill="none" stroke="#14533a" stroke-width="2" stroke-dasharray="7 6"/>
<circle cx="676.8" cy="324.4" r="3.5" fill="#fff" stroke="#14533a" stroke-width="1"/>
<circle cx="679.3" cy="294.1" r="3.5" fill="#fff" stroke="#14533a" stroke-width="1"/>
<circle cx="680.1" cy="263.8" r="3.5" fill="#fff" stroke="#14533a" stroke-width="1"/>
<circle cx="680.3" cy="233.5" r="3.5" fill="#fff" stroke="#14533a" stroke-width="1"/>
<circle cx="680.5" cy="203.1" r="3.5" fill="#fff" stroke="#14533a" stroke-width="1"/>
<circle cx="680.5" cy="172.8" r="3.5" fill="#fff" stroke="#14533a" stroke-width="1"/>
<circle cx="680.5" cy="142.5" r="3.5" fill="#fff" stroke="#14533a" stroke-width="1"/>
<circle cx="680.5" cy="112.2" r="3.5" fill="#fff" stroke="#14533a" stroke-width="1"/>
<circle cx="680.5" cy="81.9" r="3.5" fill="#fff" stroke="#14533a" stroke-width="1"/>
<circle cx="680.5" cy="51.6" r="3.5" fill="#fff" stroke="#14533a" stroke-width="1"/>
<polyline points="702.4,324.4 730.4,294.1 758.0,263.8 787.5,233.5 816.6,203.1 842.1,172.8 862.6,142.5 877.1,112.2 886.3,81.9 888.4,51.6" fill="none" stroke="#1414f0" stroke-width="2" stroke-dasharray="9 8"/>
<circle cx="702.4" cy="324.4" r="3.5" fill="#fff" stroke="#1414f0" stroke-width="1"/>
<circle cx="730.4" cy="294.1" r="3.5" fill="#fff" stroke="#1414f0" stroke-width="1"/>
<circle cx="758.0" cy="263.8" r="3.5" fill="#fff" stroke="#1414f0" stroke-width="1"/>
<circle cx="787.5" cy="233.5" r="3.5" fill="#fff" stroke="#1414f0" stroke-width="1"/>
<circle cx="816.6" cy="203.1" r="3.5" fill="#fff" stroke="#1414f0" stroke-width="1"/>
<circle cx="842.1" cy="172.8" r="3.5" fill="#fff" stroke="#1414f0" stroke-width="1"/>
<circle cx="862.6" cy="142.5" r="3.5" fill="#fff" stroke="#1414f0" stroke-width="1"/>
<circle cx="877.1" cy="112.2" r="3.5" fill="#fff" stroke="#1414f0" stroke-width="1"/>
<circle cx="886.3" cy="81.9" r="3.5" fill="#fff" stroke="#1414f0" stroke-width="1"/>
<circle cx="888.4" cy="51.6" r="3.5" fill="#fff" stroke="#1414f0" stroke-width="1"/>
<polyline points="716.8,324.4 745.3,294.1 763.8,263.8 767.2,233.5 774.6,203.1 774.9,172.8 774.9,142.5 775.8,112.2 774.9,81.9 776.6,51.6" fill="none" stroke="#14533a" stroke-width="2"/>
<circle cx="716.8" cy="324.4" r="4.0" fill="#14533a"/>
<circle cx="745.3" cy="294.1" r="4.0" fill="#14533a"/>
<circle cx="763.8" cy="263.8" r="4.0" fill="#14533a"/>
<circle cx="767.2" cy="233.5" r="4.0" fill="#14533a"/>
<circle cx="774.6" cy="203.1" r="4.0" fill="#14533a"/>
<circle cx="774.9" cy="172.8" r="4.0" fill="#14533a"/>
<circle cx="774.9" cy="142.5" r="4.0" fill="#14533a"/>
<circle cx="775.8" cy="112.2" r="4.0" fill="#14533a"/>
<circle cx="774.9" cy="81.9" r="4.0" fill="#14533a"/>
<circle cx="776.6" cy="51.6" r="4.0" fill="#14533a"/>
<polyline points="726.7,324.4 770.8,294.1 794.2,263.8 807.1,233.5 816.6,203.1 823.2,172.8 824.7,142.5 824.0,112.2 822.7,81.9 825.2,51.6" fill="none" stroke="#f5001d" stroke-width="2"/>
<circle cx="726.7" cy="324.4" r="4.0" fill="#f5001d"/>
<circle cx="770.8" cy="294.1" r="4.0" fill="#f5001d"/>
<circle cx="794.2" cy="263.8" r="4.0" fill="#f5001d"/>
<circle cx="807.1" cy="233.5" r="4.0" fill="#f5001d"/>
<circle cx="816.6" cy="203.1" r="4.0" fill="#f5001d"/>
<circle cx="823.2" cy="172.8" r="4.0" fill="#f5001d"/>
<circle cx="824.7" cy="142.5" r="4.0" fill="#f5001d"/>
<circle cx="824.0" cy="112.2" r="4.0" fill="#f5001d"/>
<circle cx="822.7" cy="81.9" r="4.0" fill="#f5001d"/>
<circle cx="825.2" cy="51.6" r="4.0" fill="#f5001d"/>
<polyline points="701.5,339.5 744.1,324.4 784.4,309.2 826.1,294.1 870.8,278.9 912.1,263.8 955.1,248.6 996.7,233.5 1003.5,218.3 1018.4,203.1 1026.5,188.0 1023.5,172.8 1025.8,142.5 1027.6,112.2 1028.5,81.9 1028.8,51.6" fill="none" stroke="#1414f0" stroke-width="2"/>
<circle cx="701.5" cy="339.5" r="4.0" fill="#1414f0"/>
<circle cx="744.1" cy="324.4" r="4.0" fill="#1414f0"/>
<circle cx="784.4" cy="309.2" r="4.0" fill="#1414f0"/>
<circle cx="826.1" cy="294.1" r="4.0" fill="#1414f0"/>
<circle cx="870.8" cy="278.9" r="4.0" fill="#1414f0"/>
<circle cx="912.1" cy="263.8" r="4.0" fill="#1414f0"/>
<circle cx="955.1" cy="248.6" r="4.0" fill="#1414f0"/>
<circle cx="996.7" cy="233.5" r="4.0" fill="#1414f0"/>
<circle cx="1003.5" cy="218.3" r="4.0" fill="#1414f0"/>
<circle cx="1018.4" cy="203.1" r="4.0" fill="#1414f0"/>
<circle cx="1026.5" cy="188.0" r="4.0" fill="#1414f0"/>
<circle cx="1023.5" cy="172.8" r="4.0" fill="#1414f0"/>
<circle cx="1025.8" cy="142.5" r="4.0" fill="#1414f0"/>
<circle cx="1027.6" cy="112.2" r="4.0" fill="#1414f0"/>
<circle cx="1028.5" cy="81.9" r="4.0" fill="#1414f0"/>
<circle cx="1028.8" cy="51.6" r="4.0" fill="#1414f0"/>
<rect x="664.9" y="20.6" width="406.3" height="334.1" fill="none" stroke="#1f1f1f" stroke-width="1.5"/>
<line x1="658.4" y1="354.7" x2="664.9" y2="354.7" stroke="#1f1f1f" stroke-width="1.5" />
<text x="653.9" y="360.1" font-size="15.2" font-weight="bold" text-anchor="end" fill="#000" font-family='"Liberation Sans", sans-serif' stroke="#000" stroke-width="0.3" >0.0</text>
<line x1="661.4" y1="324.4" x2="664.9" y2="324.4" stroke="#1f1f1f" stroke-width="1.5" />
<line x1="658.4" y1="294.1" x2="664.9" y2="294.1" stroke="#1f1f1f" stroke-width="1.5" />
<text x="653.9" y="299.5" font-size="15.2" font-weight="bold" text-anchor="end" fill="#000" font-family='"Liberation Sans", sans-serif' stroke="#000" stroke-width="0.3" >0.2</text>
<line x1="661.4" y1="263.8" x2="664.9" y2="263.8" stroke="#1f1f1f" stroke-width="1.5" />
<line x1="658.4" y1="233.5" x2="664.9" y2="233.5" stroke="#1f1f1f" stroke-width="1.5" />
<text x="653.9" y="238.9" font-size="15.2" font-weight="bold" text-anchor="end" fill="#000" font-family='"Liberation Sans", sans-serif' stroke="#000" stroke-width="0.3" >0.4</text>
<line x1="661.4" y1="203.1" x2="664.9" y2="203.1" stroke="#1f1f1f" stroke-width="1.5" />
<line x1="658.4" y1="172.8" x2="664.9" y2="172.8" stroke="#1f1f1f" stroke-width="1.5" />
<text x="653.9" y="178.2" font-size="15.2" font-weight="bold" text-anchor="end" fill="#000" font-family='"Liberation Sans", sans-serif' stroke="#000" stroke-width="0.3" >0.6</text>
<line x1="661.4" y1="142.5" x2="664.9" y2="142.5" stroke="#1f1f1f" stroke-width="1.5" />
<line x1="658.4" y1="112.2" x2="664.9" y2="112.2" stroke="#1f1f1f" stroke-width="1.5" />
<text x="653.9" y="117.6" font-size="15.2" font-weight="bold" text-anchor="end" fill="#000" font-family='"Liberation Sans", sans-serif' stroke="#000" stroke-width="0.3" >0.8</text>
<line x1="661.4" y1="81.9" x2="664.9" y2="81.9" stroke="#1f1f1f" stroke-width="1.5" />
<line x1="658.4" y1="51.6" x2="664.9" y2="51.6" stroke="#1f1f1f" stroke-width="1.5" />
<text x="653.9" y="57.0" font-size="15.2" font-weight="bold" text-anchor="end" fill="#000" font-family='"Liberation Sans", sans-serif' stroke="#000" stroke-width="0.3" >1.0</text>
<line x1="664.9" y1="354.7" x2="664.9" y2="361.2" stroke="#1f1f1f" stroke-width="1.5" />
<text x="664.9" y="379.2" font-size="15.5" font-weight="bold" text-anchor="middle" fill="#000" font-family='"Liberation Sans", sans-serif' stroke="#000" stroke-width="0.3" >0</text>
<line x1="698.8" y1="354.7" x2="698.8" y2="358.2" stroke="#1f1f1f" stroke-width="1.5" />
<line x1="732.6" y1="354.7" x2="732.6" y2="361.2" stroke="#1f1f1f" stroke-width="1.5" />
<text x="732.6" y="379.2" font-size="15.5" font-weight="bold" text-anchor="middle" fill="#000" font-family='"Liberation Sans", sans-serif' stroke="#000" stroke-width="0.3" >1</text>
<line x1="766.5" y1="354.7" x2="766.5" y2="358.2" stroke="#1f1f1f" stroke-width="1.5" />
<line x1="800.3" y1="354.7" x2="800.3" y2="361.2" stroke="#1f1f1f" stroke-width="1.5" />
<text x="800.3" y="379.2" font-size="15.5" font-weight="bold" text-anchor="middle" fill="#000" font-family='"Liberation Sans", sans-serif' stroke="#000" stroke-width="0.3" >2</text>
<line x1="834.2" y1="354.7" x2="834.2" y2="358.2" stroke="#1f1f1f" stroke-width="1.5" />
<line x1="868.0" y1="354.7" x2="868.0" y2="361.2" stroke="#1f1f1f" stroke-width="1.5" />
<text x="868.0" y="379.2" font-size="15.5" font-weight="bold" text-anchor="middle" fill="#000" font-family='"Liberation Sans", sans-serif' stroke="#000" stroke-width="0.3" >3</text>
<line x1="901.9" y1="354.7" x2="901.9" y2="358.2" stroke="#1f1f1f" stroke-width="1.5" />
<line x1="935.8" y1="354.7" x2="935.8" y2="361.2" stroke="#1f1f1f" stroke-width="1.5" />
<text x="935.8" y="379.2" font-size="15.5" font-weight="bold" text-anchor="middle" fill="#000" font-family='"Liberation Sans", sans-serif' stroke="#000" stroke-width="0.3" >4</text>
<line x1="969.6" y1="354.7" x2="969.6" y2="358.2" stroke="#1f1f1f" stroke-width="1.5" />
<line x1="1003.5" y1="354.7" x2="1003.5" y2="361.2" stroke="#1f1f1f" stroke-width="1.5" />
<text x="1003.5" y="379.2" font-size="15.5" font-weight="bold" text-anchor="middle" fill="#000" font-family='"Liberation Sans", sans-serif' stroke="#000" stroke-width="0.3" >5</text>
<line x1="1037.3" y1="354.7" x2="1037.3" y2="358.2" stroke="#1f1f1f" stroke-width="1.5" />
<line x1="1071.2" y1="354.7" x2="1071.2" y2="361.2" stroke="#1f1f1f" stroke-width="1.5" />
<text x="1071.2" y="379.2" font-size="15.5" font-weight="bold" text-anchor="middle" fill="#000" font-family='"Liberation Sans", sans-serif' stroke="#000" stroke-width="0.3" >6</text>
<text x="868.0" y="415.6" font-size="22" font-weight="bold" text-anchor="middle" fill="#000" font-family='"Liberation Sans", sans-serif' stroke="#000" stroke-width="0.3" textLength="246.5" lengthAdjust="spacingAndGlyphs" >Current Density (A.cm<tspan dy="-8" font-size="14">-2</tspan><tspan dy="8">)</tspan></text>
<text transform="translate(623.5,188.5) rotate(-90)" font-size="23" font-weight="bold" text-anchor="middle" font-family='"Liberation Sans", sans-serif'>Voltage (V)</text>
<line x1="918.3" y1="293.9" x2="948.3" y2="293.9" stroke="#1414f0" stroke-width="2"/>
<circle cx="933.3" cy="293.9" r="4" fill="#1414f0"/>
<text x="952.3" y="298.6" font-size="13.3" font-weight="normal" text-anchor="start" fill="#111" font-family='"Liberation Sans", sans-serif' >PTFSPA + Aquivion</text>
<line x1="918.3" y1="310.1" x2="924.3" y2="310.1" stroke="#1414f0" stroke-width="2"/>
<line x1="939.3" y1="310.1" x2="944.3" y2="310.1" stroke="#1414f0" stroke-width="2"/>
<circle cx="933.8" cy="310.1" r="3.5" fill="#fff" stroke="#1414f0" stroke-width="1"/>
<text x="952.3" y="314.8" font-size="13.3" font-weight="normal" text-anchor="start" fill="#111" font-family='"Liberation Sans", sans-serif' >PTFSPA</text>
<line x1="918.3" y1="326.9" x2="948.3" y2="326.9" stroke="#f5001d" stroke-width="2"/>
<circle cx="933.3" cy="326.9" r="4" fill="#f5001d"/>
<text x="952.3" y="331.6" font-size="13.3" font-weight="normal" text-anchor="start" fill="#111" font-family='"Liberation Sans", sans-serif' >PVPA + Aquivion</text>
<line x1="918.3" y1="342.9" x2="924.3" y2="342.9" stroke="#f5001d" stroke-width="2"/>
<line x1="939.3" y1="342.9" x2="944.3" y2="342.9" stroke="#f5001d" stroke-width="2"/>
<circle cx="933.8" cy="342.9" r="3.5" fill="#fff" stroke="#f5001d" stroke-width="1"/>
<text x="952.3" y="347.6" font-size="13.3" font-weight="normal" text-anchor="start" fill="#111" font-family='"Liberation Sans", sans-serif' >PVPA</text>
<line x1="769.5" y1="327.5" x2="799.5" y2="327.5" stroke="#14533a" stroke-width="2"/>
<circle cx="784.5" cy="327.5" r="4" fill="#14533a"/>
<text x="803.5" y="332.2" font-size="13.3" font-weight="normal" text-anchor="start" fill="#111" font-family='"Liberation Sans", sans-serif' >PVBPA + Aquivion</text>
<line x1="769.5" y1="344.3" x2="775.5" y2="344.3" stroke="#14533a" stroke-width="2"/>
<line x1="790.5" y1="344.3" x2="795.5" y2="344.3" stroke="#14533a" stroke-width="2"/>
<circle cx="785.0" cy="344.3" r="3.5" fill="#fff" stroke="#14533a" stroke-width="1"/>
<text x="803.5" y="349.0" font-size="13.3" font-weight="normal" text-anchor="start" fill="#111" font-family='"Liberation Sans", sans-serif' >PVBPA</text>
</g>
<g id="panel-c">
<text x="1081.0" y="23.0" font-size="33" font-weight="normal" text-anchor="start" fill="#000" font-family='"Liberation Serif", serif' >c.</text>
<rect x="1149.4" y="74.3" width="52.7" height="293.6" fill="#fb4f0a" stroke="#8a2f10" stroke-width="0.8"/>
<rect x="1214.6" y="289.3" width="52.7" height="78.6" fill="#fb4f0a" stroke="#8a2f10" stroke-width="0.8"/>
<rect x="1280.3" y="276.8" width="52.2" height="91.1" fill="#fb4f0a" stroke="#8a2f10" stroke-width="0.8"/>
<rect x="1345.5" y="297.9" width="52.2" height="70.0" fill="#fb4f0a" stroke="#8a2f10" stroke-width="0.8"/>
<rect x="1410.7" y="188.7" width="52.2" height="179.2" fill="#fb4f0a" stroke="#8a2f10" stroke-width="0.8"/>
<rect x="1475.4" y="250.4" width="52.7" height="117.5" fill="#fb4f0a" stroke="#8a2f10" stroke-width="0.8"/>
<rect x="1146" y="135.8" width="60" height="6.6" fill="#fff"/>
<rect x="1143.6" y="22.9" width="391.4" height="345.0" fill="none" stroke="#1f1f1f" stroke-width="1.5"/>
<rect x="1141.6" y="136.2" width="4" height="6" fill="#fff"/>
<line x1="1137.0" y1="139.4" x2="1150.0" y2="133.4" stroke="#1f1f1f" stroke-width="1.2" />
<line x1="1137.0" y1="145.4" x2="1150.0" y2="139.4" stroke="#1f1f1f" stroke-width="1.2" />
<line x1="1137.1" y1="367.9" x2="1143.6" y2="367.9" stroke="#1f1f1f" stroke-width="1.5" />
<text x="1132.6" y="372.9" font-size="14" font-weight="bold" text-anchor="end" fill="#000" font-family='"Liberation Sans", sans-serif' stroke="#000" stroke-width="0.3" >0</text>
<line x1="1140.1" y1="345.3" x2="1143.6" y2="345.3" stroke="#1f1f1f" stroke-width="1.5" />
<line x1="1137.1" y1="322.6" x2="1143.6" y2="322.6" stroke="#1f1f1f" stroke-width="1.5" />
<text x="1132.6" y="327.6" font-size="14" font-weight="bold" text-anchor="end" fill="#000" font-family='"Liberation Sans", sans-serif' stroke="#000" stroke-width="0.3" >50</text>
<line x1="1140.1" y1="300.0" x2="1143.6" y2="300.0" stroke="#1f1f1f" stroke-width="1.5" />
<line x1="1137.1" y1="277.3" x2="1143.6" y2="277.3" stroke="#1f1f1f" stroke-width="1.5" />
<text x="1132.6" y="282.3" font-size="14" font-weight="bold" text-anchor="end" fill="#000" font-family='"Liberation Sans", sans-serif' stroke="#000" stroke-width="0.3" >100</text>
<line x1="1140.1" y1="254.7" x2="1143.6" y2="254.7" stroke="#1f1f1f" stroke-width="1.5" />
<line x1="1137.1" y1="232.1" x2="1143.6" y2="232.1" stroke="#1f1f1f" stroke-width="1.5" />
<text x="1132.6" y="237.1" font-size="14" font-weight="bold" text-anchor="end" fill="#000" font-family='"Liberation Sans", sans-serif' stroke="#000" stroke-width="0.3" >150</text>
<line x1="1140.1" y1="209.4" x2="1143.6" y2="209.4" stroke="#1f1f1f" stroke-width="1.5" />
<line x1="1137.1" y1="186.8" x2="1143.6" y2="186.8" stroke="#1f1f1f" stroke-width="1.5" />
<text x="1132.6" y="191.8" font-size="14" font-weight="bold" text-anchor="end" fill="#000" font-family='"Liberation Sans", sans-serif' stroke="#000" stroke-width="0.3" >200</text>
<line x1="1140.1" y1="164.2" x2="1143.6" y2="164.2" stroke="#1f1f1f" stroke-width="1.5" />
<line x1="1137.1" y1="113.5" x2="1143.6" y2="113.5" stroke="#1f1f1f" stroke-width="1.5" />
<text x="1132.6" y="118.5" font-size="14" font-weight="bold" text-anchor="end" fill="#000" font-family='"Liberation Sans", sans-serif' stroke="#000" stroke-width="0.3" >500</text>
<line x1="1140.1" y1="90.9" x2="1143.6" y2="90.9" stroke="#1f1f1f" stroke-width="1.5" />
<line x1="1137.1" y1="68.2" x2="1143.6" y2="68.2" stroke="#1f1f1f" stroke-width="1.5" />
<text x="1132.6" y="73.2" font-size="14" font-weight="bold" text-anchor="end" fill="#000" font-family='"Liberation Sans", sans-serif' stroke="#000" stroke-width="0.3" >550</text>
<line x1="1140.1" y1="45.6" x2="1143.6" y2="45.6" stroke="#1f1f1f" stroke-width="1.5" />
<line x1="1137.1" y1="23.0" x2="1143.6" y2="23.0" stroke="#1f1f1f" stroke-width="1.5" />
<text x="1132.6" y="28.0" font-size="14" font-weight="bold" text-anchor="end" fill="#000" font-family='"Liberation Sans", sans-serif' stroke="#000" stroke-width="0.3" >600</text>
<line x1="1208.8" y1="367.9" x2="1208.8" y2="371.4" stroke="#1f1f1f" stroke-width="1.5" />
<line x1="1274.1" y1="367.9" x2="1274.1" y2="371.4" stroke="#1f1f1f" stroke-width="1.5" />
<line x1="1339.3" y1="367.9" x2="1339.3" y2="371.4" stroke="#1f1f1f" stroke-width="1.5" />
<line x1="1404.5" y1="367.9" x2="1404.5" y2="371.4" stroke="#1f1f1f" stroke-width="1.5" />
<line x1="1469.8" y1="367.9" x2="1469.8" y2="371.4" stroke="#1f1f1f" stroke-width="1.5" />
<line x1="1176.2" y1="367.9" x2="1176.2" y2="374.4" stroke="#1f1f1f" stroke-width="1.5" />
<text x="1175.6" y="391.4" font-size="14" font-weight="bold" text-anchor="middle" fill="#000" font-family='"Liberation Sans", sans-serif' stroke="#000" stroke-width="0.3" >PVPA</text>
<line x1="1241.4" y1="367.9" x2="1241.4" y2="374.4" stroke="#1f1f1f" stroke-width="1.5" />
<text x="1240.8" y="391.4" font-size="14" font-weight="bold" text-anchor="middle" fill="#000" font-family='"Liberation Sans", sans-serif' stroke="#000" stroke-width="0.3" >PVPA +</text>
<text x="1240.8" y="410.8" font-size="14" font-weight="bold" text-anchor="middle" fill="#000" font-family='"Liberation Sans", sans-serif' stroke="#000" stroke-width="0.3" >Aquivion</text>
<line x1="1306.7" y1="367.9" x2="1306.7" y2="374.4" stroke="#1f1f1f" stroke-width="1.5" />
<text x="1306.1" y="391.4" font-size="14" font-weight="bold" text-anchor="middle" fill="#000" font-family='"Liberation Sans", sans-serif' stroke="#000" stroke-width="0.3" >PTFSPA</text>
<line x1="1371.9" y1="367.9" x2="1371.9" y2="374.4" stroke="#1f1f1f" stroke-width="1.5" />
<text x="1371.3" y="391.4" font-size="14" font-weight="bold" text-anchor="middle" fill="#000" font-family='"Liberation Sans", sans-serif' stroke="#000" stroke-width="0.3" >PTFSPA</text>
<text x="1371.3" y="410.8" font-size="14" font-weight="bold" text-anchor="middle" fill="#000" font-family='"Liberation Sans", sans-serif' stroke="#000" stroke-width="0.3" >+</text>
<text x="1371.3" y="430.2" font-size="14" font-weight="bold" text-anchor="middle" fill="#000" font-family='"Liberation Sans", sans-serif' stroke="#000" stroke-width="0.3" >Aquivion</text>
<line x1="1437.2" y1="367.9" x2="1437.2" y2="374.4" stroke="#1f1f1f" stroke-width="1.5" />
<text x="1436.6" y="391.4" font-size="14" font-weight="bold" text-anchor="middle" fill="#000" font-family='"Liberation Sans", sans-serif' stroke="#000" stroke-width="0.3" >PVBPA</text>
<line x1="1502.4" y1="367.9" x2="1502.4" y2="374.4" stroke="#1f1f1f" stroke-width="1.5" />
<text x="1501.8" y="391.4" font-size="14" font-weight="bold" text-anchor="middle" fill="#000" font-family='"Liberation Sans", sans-serif' stroke="#000" stroke-width="0.3" >PVBPA +</text>
<text x="1501.8" y="410.8" font-size="14" font-weight="bold" text-anchor="middle" fill="#000" font-family='"Liberation Sans", sans-serif' stroke="#000" stroke-width="0.3" >Aquivion</text>
<text transform="translate(1097.6,195.4) rotate(-90)" font-size="20" font-weight="bold" text-anchor="middle" textLength="126.2" lengthAdjust="spacingAndGlyphs" font-family='"Liberation Sans", sans-serif'>R<tspan dy="4" font-size="13.5">ct</tspan><tspan dy="-4"> (mΩ.cm</tspan><tspan dy="-7" font-size="13.5">2</tspan><tspan dy="7">)</tspan></text>
<text x="1267.5" y="130.4" font-size="22" font-weight="bold" text-anchor="start" fill="#000" font-family='"Liberation Sans", sans-serif' stroke="#000" stroke-width="0.3" >Aquivion®</text>
<text x="1267.5" y="158.6" font-size="22" font-weight="bold" text-anchor="start" fill="#000" font-family='"Liberation Sans", sans-serif' stroke="#000" stroke-width="0.3" >Addition</text>
<line x1="1236" y1="112" x2="1236" y2="234" stroke="#000" stroke-width="3.6" stroke-dasharray="15 12"/>
<polygon points="1227,232 1245,232 1236,249" fill="#000"/>
<line x1="1361.5" y1="262" x2="1361.5" y2="270" stroke="#000" stroke-width="2" stroke-dasharray="30 1"/>
<polygon points="1352.5,268 1370.5,268 1361.5,285" fill="#000"/>
<line x1="1485.5" y1="183" x2="1485.5" y2="218.5" stroke="#000" stroke-width="2.6" stroke-dasharray="12 9"/>
<polygon points="1476.5,216.5 1494.5,216.5 1485.5,233.5" fill="#000"/>
<text x="1289" y="68" font-size="25.5" font-weight="bold" font-style="italic" font-family='"Liberation Serif", "DejaVu Serif", serif' stroke="#000" stroke-width="0.6">R<tspan dy="5" font-size="21">ct</tspan></text>
<text x="1338" y="69.5" font-size="29" font-weight="bold" font-family='"Liberation Serif", "DejaVu Serif", serif' stroke="#000" stroke-width="0.3">=</text>
<text x="1387" y="49.5" font-size="26" font-weight="bold" font-style="italic" text-anchor="middle" font-family='"Liberation Serif", "DejaVu Serif", serif' stroke="#000" stroke-width="0.6">RT</text>
<rect x="1368" y="58.1" width="38" height="3.9" fill="#000"/>
<text x="1369" y="85.5" font-size="26" font-weight="bold" font-style="italic" font-family='"Liberation Serif", "DejaVu Serif", serif' stroke="#000" stroke-width="0.6">Fi<tspan dy="5" font-size="21">o</tspan></text>
</g>
<g id="panel-d">
<text x="613.0" y="420.0" font-size="33" font-weight="normal" text-anchor="start" fill="#000" font-family='"Liberation Serif", serif' >d.</text>
<line x1="698.4" y1="514.5" x2="809.4" y2="439.7" stroke="#8478ee" stroke-width="1" opacity="0.5"/>
<circle cx="698.4" cy="514.5" r="2.4" fill="#fff" stroke="#8478ee" stroke-width="1.1"/>
<circle cx="700.0" cy="513.4" r="2.4" fill="#fff" stroke="#8478ee" stroke-width="1.1"/>
<circle cx="701.5" cy="512.3" r="2.4" fill="#fff" stroke="#8478ee" stroke-width="1.1"/>
<circle cx="703.2" cy="511.3" r="2.4" fill="#fff" stroke="#8478ee" stroke-width="1.1"/>
<circle cx="704.8" cy="510.1" r="2.4" fill="#fff" stroke="#8478ee" stroke-width="1.1"/>
<circle cx="706.5" cy="509.0" r="2.4" fill="#fff" stroke="#8478ee" stroke-width="1.1"/>
<circle cx="708.2" cy="507.8" r="2.4" fill="#fff" stroke="#8478ee" stroke-width="1.1"/>
<circle cx="710.0" cy="506.6" r="2.4" fill="#fff" stroke="#8478ee" stroke-width="1.1"/>
<circle cx="711.8" cy="505.4" r="2.4" fill="#fff" stroke="#8478ee" stroke-width="1.1"/>
<circle cx="713.7" cy="504.2" r="2.4" fill="#fff" stroke="#8478ee" stroke-width="1.1"/>
<circle cx="715.5" cy="502.9" r="2.4" fill="#fff" stroke="#8478ee" stroke-width="1.1"/>
<circle cx="717.5" cy="501.6" r="2.4" fill="#fff" stroke="#8478ee" stroke-width="1.1"/>
<circle cx="719.4" cy="500.3" r="2.4" fill="#fff" stroke="#8478ee" stroke-width="1.1"/>
<circle cx="721.4" cy="499.0" r="2.4" fill="#fff" stroke="#8478ee" stroke-width="1.1"/>
<circle cx="723.4" cy="497.6" r="2.4" fill="#fff" stroke="#8478ee" stroke-width="1.1"/>
<circle cx="725.5" cy="496.2" r="2.4" fill="#fff" stroke="#8478ee" stroke-width="1.1"/>
<circle cx="727.7" cy="494.8" r="2.4" fill="#fff" stroke="#8478ee" stroke-width="1.1"/>
<circle cx="729.8" cy="493.3" r="2.4" fill="#fff" stroke="#8478ee" stroke-width="1.1"/>
<circle cx="732.1" cy="491.8" r="2.4" fill="#fff" stroke="#8478ee" stroke-width="1.1"/>
<circle cx="734.3" cy="490.3" r="2.4" fill="#fff" stroke="#8478ee" stroke-width="1.1"/>
<circle cx="736.6" cy="488.7" r="2.4" fill="#fff" stroke="#8478ee" stroke-width="1.1"/>
<circle cx="739.0" cy="487.1" r="2.4" fill="#fff" stroke="#8478ee" stroke-width="1.1"/>
<circle cx="741.4" cy="485.5" r="2.4" fill="#fff" stroke="#8478ee" stroke-width="1.1"/>
<circle cx="743.9" cy="483.9" r="2.4" fill="#fff" stroke="#8478ee" stroke-width="1.1"/>
<circle cx="746.4" cy="482.2" r="2.4" fill="#fff" stroke="#8478ee" stroke-width="1.1"/>
<circle cx="748.9" cy="480.4" r="2.4" fill="#fff" stroke="#8478ee" stroke-width="1.1"/>
<circle cx="751.6" cy="478.7" r="2.4" fill="#fff" stroke="#8478ee" stroke-width="1.1"/>
<circle cx="754.2" cy="476.9" r="2.4" fill="#fff" stroke="#8478ee" stroke-width="1.1"/>
<circle cx="757.0" cy="475.0" r="2.4" fill="#fff" stroke="#8478ee" stroke-width="1.1"/>
<circle cx="759.8" cy="473.2" r="2.4" fill="#fff" stroke="#8478ee" stroke-width="1.1"/>
<circle cx="762.6" cy="471.2" r="2.4" fill="#fff" stroke="#8478ee" stroke-width="1.1"/>
<circle cx="765.5" cy="469.3" r="2.4" fill="#fff" stroke="#8478ee" stroke-width="1.1"/>
<circle cx="768.5" cy="467.3" r="2.4" fill="#fff" stroke="#8478ee" stroke-width="1.1"/>
<circle cx="771.5" cy="465.2" r="2.4" fill="#fff" stroke="#8478ee" stroke-width="1.1"/>
<circle cx="774.6" cy="463.2" r="2.4" fill="#fff" stroke="#8478ee" stroke-width="1.1"/>
<circle cx="777.8" cy="461.0" r="2.4" fill="#fff" stroke="#8478ee" stroke-width="1.1"/>
<circle cx="781.0" cy="458.9" r="2.4" fill="#fff" stroke="#8478ee" stroke-width="1.1"/>
<circle cx="784.3" cy="456.6" r="2.4" fill="#fff" stroke="#8478ee" stroke-width="1.1"/>
<circle cx="787.7" cy="454.4" r="2.4" fill="#fff" stroke="#8478ee" stroke-width="1.1"/>
<circle cx="791.1" cy="452.1" r="2.4" fill="#fff" stroke="#8478ee" stroke-width="1.1"/>
<circle cx="794.6" cy="449.7" r="2.4" fill="#fff" stroke="#8478ee" stroke-width="1.1"/>
<circle cx="798.2" cy="447.3" r="2.4" fill="#fff" stroke="#8478ee" stroke-width="1.1"/>
<circle cx="801.9" cy="444.8" r="2.4" fill="#fff" stroke="#8478ee" stroke-width="1.1"/>
<circle cx="805.6" cy="442.3" r="2.4" fill="#fff" stroke="#8478ee" stroke-width="1.1"/>
<circle cx="809.4" cy="439.7" r="2.4" fill="#fff" stroke="#8478ee" stroke-width="1.1"/>
<polyline points="698.3,665.4 707.2,661.5 717.4,656.8 729,651.6 741.6,645.4 756.2,638.5 771.6,630.4 790.4,620.5 809.7,610.3" fill="none" stroke="#1414f0" stroke-width="2.4"/>
<rect x="695.8" y="662.9" width="5" height="5" fill="#1414f0"/>
<rect x="704.7" y="659.0" width="5" height="5" fill="#1414f0"/>
<rect x="714.9" y="654.3" width="5" height="5" fill="#1414f0"/>
<rect x="726.5" y="649.1" width="5" height="5" fill="#1414f0"/>
<rect x="739.1" y="642.9" width="5" height="5" fill="#1414f0"/>
<rect x="753.7" y="636.0" width="5" height="5" fill="#1414f0"/>
<rect x="769.1" y="627.9" width="5" height="5" fill="#1414f0"/>
<rect x="787.9" y="618.0" width="5" height="5" fill="#1414f0"/>
<rect x="807.2" y="607.8" width="5" height="5" fill="#1414f0"/>
<line x1="900.1" y1="596.4" x2="995.1" y2="547.2" stroke="#e8101c" stroke-width="2.2" stroke-dasharray="9 3.5"/>
<polygon points="897.1,596.4 900.1,593.4 903.1,596.4 900.1,599.4" fill="#fff" stroke="#e8101c" stroke-width="0.9"/>
<polygon points="902.7,593.5 905.7,590.5 908.7,593.5 905.7,596.5" fill="#fff" stroke="#e8101c" stroke-width="0.9"/>
<polygon points="908.7,590.4 911.7,587.4 914.7,590.4 911.7,593.4" fill="#fff" stroke="#e8101c" stroke-width="0.9"/>
<polygon points="916.5,586.3 919.5,583.3 922.5,586.3 919.5,589.3" fill="#fff" stroke="#e8101c" stroke-width="0.9"/>
<polygon points="922.6,583.2 925.6,580.2 928.6,583.2 925.6,586.2" fill="#fff" stroke="#e8101c" stroke-width="0.9"/>
<polygon points="928.6,580.1 931.6,577.1 934.6,580.1 931.6,583.1" fill="#fff" stroke="#e8101c" stroke-width="0.9"/>
<polygon points="934.7,577.0 937.7,574.0 940.7,577.0 937.7,580.0" fill="#fff" stroke="#e8101c" stroke-width="0.9"/>
<polygon points="945.9,571.1 948.9,568.1 951.9,571.1 948.9,574.1" fill="#fff" stroke="#e8101c" stroke-width="0.9"/>
<polygon points="951.9,568.0 954.9,565.0 957.9,568.0 954.9,571.0" fill="#fff" stroke="#e8101c" stroke-width="0.9"/>
<polygon points="958.0,564.9 961.0,561.9 964.0,564.9 961.0,567.9" fill="#fff" stroke="#e8101c" stroke-width="0.9"/>
<polygon points="964.9,561.3 967.9,558.3 970.9,561.3 967.9,564.3" fill="#fff" stroke="#e8101c" stroke-width="0.9"/>
<polygon points="976.1,555.5 979.1,552.5 982.1,555.5 979.1,558.5" fill="#fff" stroke="#e8101c" stroke-width="0.9"/>
<polygon points="981.3,552.8 984.3,549.8 987.3,552.8 984.3,555.8" fill="#fff" stroke="#e8101c" stroke-width="0.9"/>
<polygon points="992.1,547.2 995.1,544.2 998.1,547.2 995.1,550.2" fill="#fff" stroke="#e8101c" stroke-width="0.9"/>
<line x1="885.8" y1="736.3" x2="1033.9" y2="686.2" stroke="#e8101c" stroke-width="2.2" stroke-dasharray="9 3.5"/>
<polygon points="882.5,736.3 885.8,733.0 889.1,736.3 885.8,739.6" fill="#e8101c" stroke="#e8101c" stroke-width="0.9"/>
<polygon points="890.3,733.7 893.6,730.4 896.9,733.7 893.6,737.0" fill="#e8101c" stroke="#e8101c" stroke-width="0.9"/>
<polygon points="896.8,731.5 900.1,728.2 903.4,731.5 900.1,734.8" fill="#e8101c" stroke="#e8101c" stroke-width="0.9"/>
<polygon points="904.1,729.0 907.4,725.7 910.7,729.0 907.4,732.3" fill="#e8101c" stroke="#e8101c" stroke-width="0.9"/>
<polygon points="910.2,726.9 913.5,723.6 916.8,726.9 913.5,730.2" fill="#e8101c" stroke="#e8101c" stroke-width="0.9"/>
<polygon points="916.2,724.9 919.5,721.6 922.8,724.9 919.5,728.2" fill="#e8101c" stroke="#e8101c" stroke-width="0.9"/>
<polygon points="922.7,722.7 926.0,719.4 929.3,722.7 926.0,726.0" fill="#e8101c" stroke="#e8101c" stroke-width="0.9"/>
<polygon points="928.3,720.8 931.6,717.5 934.9,720.8 931.6,724.1" fill="#e8101c" stroke="#e8101c" stroke-width="0.9"/>
<polygon points="934.4,718.8 937.7,715.5 941.0,718.8 937.7,722.1" fill="#e8101c" stroke="#e8101c" stroke-width="0.9"/>
<polygon points="945.6,715.0 948.9,711.7 952.2,715.0 948.9,718.3" fill="#e8101c" stroke="#e8101c" stroke-width="0.9"/>
<polygon points="950.8,713.2 954.1,709.9 957.4,713.2 954.1,716.5" fill="#e8101c" stroke="#e8101c" stroke-width="0.9"/>
<polygon points="957.2,711.0 960.5,707.7 963.8,711.0 960.5,714.3" fill="#e8101c" stroke="#e8101c" stroke-width="0.9"/>
<polygon points="964.6,708.5 967.9,705.2 971.2,708.5 967.9,711.8" fill="#e8101c" stroke="#e8101c" stroke-width="0.9"/>
<polygon points="975.8,704.7 979.1,701.4 982.4,704.7 979.1,708.0" fill="#e8101c" stroke="#e8101c" stroke-width="0.9"/>
<polygon points="981.0,703.0 984.3,699.7 987.6,703.0 984.3,706.3" fill="#e8101c" stroke="#e8101c" stroke-width="0.9"/>
<polygon points="991.8,699.3 995.1,696.0 998.4,699.3 995.1,702.6" fill="#e8101c" stroke="#e8101c" stroke-width="0.9"/>
<polygon points="1002.6,695.7 1005.9,692.4 1009.2,695.7 1005.9,699.0" fill="#e8101c" stroke="#e8101c" stroke-width="0.9"/>
<polygon points="1012.1,692.5 1015.4,689.2 1018.7,692.5 1015.4,695.8" fill="#e8101c" stroke="#e8101c" stroke-width="0.9"/>
<polygon points="1015.5,691.3 1018.8,688.0 1022.1,691.3 1018.8,694.6" fill="#e8101c" stroke="#e8101c" stroke-width="0.9"/>
<polygon points="1030.6,686.2 1033.9,682.9 1037.2,686.2 1033.9,689.5" fill="#e8101c" stroke="#e8101c" stroke-width="0.9"/>
<rect x="661.4" y="430.1" width="407.1" height="328.2" fill="none" stroke="#1f1f1f" stroke-width="1.5"/>
<line x1="655.4" y1="758.3" x2="661.4" y2="758.3" stroke="#1f1f1f" stroke-width="1.5" />
<text x="650.2" y="763.6" font-size="15" font-weight="bold" text-anchor="end" fill="#000" font-family='"Liberation Sans", sans-serif' stroke="#000" stroke-width="0.3" >0.02</text>
<line x1="658.2" y1="730.9" x2="661.4" y2="730.9" stroke="#1f1f1f" stroke-width="1.5" />
<line x1="655.4" y1="703.6" x2="661.4" y2="703.6" stroke="#1f1f1f" stroke-width="1.5" />
<text x="650.2" y="708.9" font-size="15" font-weight="bold" text-anchor="end" fill="#000" font-family='"Liberation Sans", sans-serif' stroke="#000" stroke-width="0.3" >0.03</text>
<line x1="658.2" y1="676.2" x2="661.4" y2="676.2" stroke="#1f1f1f" stroke-width="1.5" />
<line x1="655.4" y1="648.9" x2="661.4" y2="648.9" stroke="#1f1f1f" stroke-width="1.5" />
<text x="650.2" y="654.2" font-size="15" font-weight="bold" text-anchor="end" fill="#000" font-family='"Liberation Sans", sans-serif' stroke="#000" stroke-width="0.3" >0.04</text>
<line x1="658.2" y1="621.5" x2="661.4" y2="621.5" stroke="#1f1f1f" stroke-width="1.5" />
<line x1="655.4" y1="594.2" x2="661.4" y2="594.2" stroke="#1f1f1f" stroke-width="1.5" />
<text x="650.2" y="599.5" font-size="15" font-weight="bold" text-anchor="end" fill="#000" font-family='"Liberation Sans", sans-serif' stroke="#000" stroke-width="0.3" >0.05</text>
<line x1="658.2" y1="566.8" x2="661.4" y2="566.8" stroke="#1f1f1f" stroke-width="1.5" />
<line x1="655.4" y1="539.5" x2="661.4" y2="539.5" stroke="#1f1f1f" stroke-width="1.5" />
<text x="650.2" y="544.8" font-size="15" font-weight="bold" text-anchor="end" fill="#000" font-family='"Liberation Sans", sans-serif' stroke="#000" stroke-width="0.3" >0.06</text>
<line x1="658.2" y1="512.1" x2="661.4" y2="512.1" stroke="#1f1f1f" stroke-width="1.5" />
<line x1="655.4" y1="484.8" x2="661.4" y2="484.8" stroke="#1f1f1f" stroke-width="1.5" />
<text x="650.2" y="490.1" font-size="15" font-weight="bold" text-anchor="end" fill="#000" font-family='"Liberation Sans", sans-serif' stroke="#000" stroke-width="0.3" >0.07</text>
<line x1="658.2" y1="457.4" x2="661.4" y2="457.4" stroke="#1f1f1f" stroke-width="1.5" />
<line x1="655.4" y1="430.1" x2="661.4" y2="430.1" stroke="#1f1f1f" stroke-width="1.5" />
<text x="650.2" y="435.4" font-size="15" font-weight="bold" text-anchor="end" fill="#000" font-family='"Liberation Sans", sans-serif' stroke="#000" stroke-width="0.3" >0.08</text>
<line x1="698.4" y1="758.3" x2="698.4" y2="764.3" stroke="#1f1f1f" stroke-width="1.5" />
<text x="698.4" y="781.8" font-size="15" font-weight="bold" text-anchor="middle" fill="#000" font-family='"Liberation Sans", sans-serif' stroke="#000" stroke-width="0.3" >0.02</text>
<line x1="735.4" y1="758.3" x2="735.4" y2="761.5" stroke="#1f1f1f" stroke-width="1.5" />
<line x1="772.4" y1="758.3" x2="772.4" y2="764.3" stroke="#1f1f1f" stroke-width="1.5" />
<text x="772.4" y="781.8" font-size="15" font-weight="bold" text-anchor="middle" fill="#000" font-family='"Liberation Sans", sans-serif' stroke="#000" stroke-width="0.3" >0.04</text>
<line x1="809.4" y1="758.3" x2="809.4" y2="761.5" stroke="#1f1f1f" stroke-width="1.5" />
<line x1="846.4" y1="758.3" x2="846.4" y2="764.3" stroke="#1f1f1f" stroke-width="1.5" />
<text x="846.4" y="781.8" font-size="15" font-weight="bold" text-anchor="middle" fill="#000" font-family='"Liberation Sans", sans-serif' stroke="#000" stroke-width="0.3" >0.06</text>
<line x1="883.4" y1="758.3" x2="883.4" y2="761.5" stroke="#1f1f1f" stroke-width="1.5" />
<line x1="920.4" y1="758.3" x2="920.4" y2="764.3" stroke="#1f1f1f" stroke-width="1.5" />
<text x="920.4" y="781.8" font-size="15" font-weight="bold" text-anchor="middle" fill="#000" font-family='"Liberation Sans", sans-serif' stroke="#000" stroke-width="0.3" >0.08</text>
<line x1="957.4" y1="758.3" x2="957.4" y2="761.5" stroke="#1f1f1f" stroke-width="1.5" />
<line x1="994.4" y1="758.3" x2="994.4" y2="764.3" stroke="#1f1f1f" stroke-width="1.5" />
<text x="994.4" y="781.8" font-size="15" font-weight="bold" text-anchor="middle" fill="#000" font-family='"Liberation Sans", sans-serif' stroke="#000" stroke-width="0.3" >0.10</text>
<line x1="1031.4" y1="758.3" x2="1031.4" y2="761.5" stroke="#1f1f1f" stroke-width="1.5" />
<line x1="1068.4" y1="758.3" x2="1068.4" y2="764.3" stroke="#1f1f1f" stroke-width="1.5" />
<clipPath id="clipd"><rect x="1040" y="760" width="29.6" height="30"/></clipPath>
<text x="1068.5" y="781.8" font-size="15" font-weight="bold" stroke="#000" stroke-width="0.3" text-anchor="middle" clip-path="url(#clipd)" font-family='"Liberation Sans", sans-serif'>0.12</text>
<text x="864" y="819.6" font-size="21" font-weight="bold" text-anchor="middle" font-family='"Liberation Sans", sans-serif'>ω<tspan dy="-8" font-size="14">-0.5</tspan><tspan dy="8"> (s</tspan><tspan dy="-8" font-size="14">0.5</tspan><tspan dy="8">)</tspan></text>
<text transform="translate(612.7,594.3) rotate(-90)" font-size="20" font-weight="bold" text-anchor="middle" textLength="51.5" lengthAdjust="spacingAndGlyphs" font-family='"Liberation Sans", sans-serif'>Z' (Ω)</text>
<text x="695.5" y="458.5" font-size="16.5" font-weight="bold" text-anchor="start" fill="#000" font-family='"Liberation Sans", sans-serif' stroke="#000" stroke-width="0.3" textLength="72.4" lengthAdjust="spacingAndGlyphs" >σ = 0.453</text>
<text x="704.9" y="621.0" font-size="16.5" font-weight="bold" text-anchor="start" fill="#000" font-family='"Liberation Sans", sans-serif' stroke="#000" stroke-width="0.3" textLength="72.9" lengthAdjust="spacingAndGlyphs" >σ = 0.289</text>
<text x="894.0" y="555.4" font-size="16.5" font-weight="bold" text-anchor="start" fill="#000" font-family='"Liberation Sans", sans-serif' stroke="#000" stroke-width="0.3" textLength="73.0" lengthAdjust="spacingAndGlyphs" >σ = 0.352</text>
<text x="914.8" y="697.9" font-size="16.5" font-weight="bold" text-anchor="start" fill="#000" font-family='"Liberation Sans", sans-serif' stroke="#000" stroke-width="0.3" textLength="73.0" lengthAdjust="spacingAndGlyphs" >σ = 0.265</text>
<line x1="776.6" y1="474.7" x2="776.6" y2="581.6" stroke="#000" stroke-width="3" stroke-dasharray="12.2 9.6"/>
<polygon points="767.3000000000001,579.6 785.9,579.6 776.6,597" fill="#000"/>
<line x1="995.5" y1="564" x2="995.5" y2="672" stroke="#000" stroke-width="3" stroke-dasharray="12.2 9.6"/>
<polygon points="986.2,670 1004.8,670 995.5,688" fill="#000"/>
<line x1="900.9" y1="444.8" x2="934.6" y2="444.8" stroke="#1414f0" stroke-width="2"/>
<rect x="916.0" y="442.6" width="4.4" height="4.4" fill="#1414f0"/>
<text x="938.9" y="449.8" font-size="14" font-weight="normal" text-anchor="start" fill="#111" font-family='"Liberation Sans", sans-serif' >PTFSPA + Aquivion</text>
<line x1="900.9" y1="460.8" x2="934.6" y2="460.8" stroke="#1414f0" stroke-width="2"/>
<circle cx="918.2" cy="460.8" r="2.2" fill="#fff" stroke="#8478ee" stroke-width="0.9"/>
<text x="938.9" y="465.8" font-size="14" font-weight="normal" text-anchor="start" fill="#111" font-family='"Liberation Sans", sans-serif' >PTFSPA</text>
<line x1="900.9" y1="479.4" x2="934.6" y2="479.4" stroke="#e8101c" stroke-width="2"/>
<rect x="913.2" y="477.4" width="10" height="4" fill="#fff"/>
<polygon points="915.2,479.4 918.2,476.4 921.2,479.4 918.2,482.4" fill="#e8101c" stroke="#e8101c" stroke-width="0.9"/>
<text x="938.9" y="484.4" font-size="14" font-weight="normal" text-anchor="start" fill="#111" font-family='"Liberation Sans", sans-serif' >PVPA + Aquivion</text>
<line x1="900.9" y1="495.8" x2="934.6" y2="495.8" stroke="#e8101c" stroke-width="2"/>
<rect x="913.2" y="493.8" width="10" height="4" fill="#fff"/>
<polygon points="915.4,495.8 918.2,493.0 921.0,495.8 918.2,498.6" fill="#fff" stroke="#e8101c" stroke-width="0.9"/>
<text x="938.9" y="500.8" font-size="14" font-weight="normal" text-anchor="start" fill="#111" font-family='"Liberation Sans", sans-serif' >PVPA</text>
<text x="745" y="684" font-size="31" font-weight="bold" font-style="italic" font-family='"Liberation Serif", "DejaVu Serif", serif' stroke="#000" stroke-width="0.6">σ</text>
<text x="777" y="686" font-size="31" font-weight="bold" font-family='"Liberation Serif", "DejaVu Serif", serif' stroke="#000" stroke-width="0.5">~</text>
<text x="832.8" y="660" font-size="31" font-weight="bold" text-anchor="middle" font-family='"Liberation Serif", "DejaVu Serif", serif' stroke="#000" stroke-width="0.5">1</text>
<rect x="806" y="671.7" width="53" height="3.2" fill="#000"/>
<text x="806" y="703.5" font-size="30" font-weight="bold" font-style="italic" font-family='"Liberation Serif", "DejaVu Serif", serif' stroke="#000" stroke-width="0.6">D</text>
<text x="829" y="692" font-size="21" font-weight="bold" font-family='"Liberation Serif", "DejaVu Serif", serif' stroke="#000" stroke-width="0.4">0.5</text>
<text x="830" y="711" font-size="21" font-weight="bold" font-style="italic" font-family='"Liberation Serif", "DejaVu Serif", serif' stroke="#000" stroke-width="0.5">r</text>
</g>
<g id="panel-e">
<text x="1087.0" y="429.5" font-size="33" font-weight="normal" text-anchor="start" fill="#000" font-family='"Liberation Serif", serif' >e.</text>
<rect x="1143.3" y="587.0" width="27.2" height="181.3" fill="#0a14f5" stroke="#0a0a90" stroke-width="0.7"/>
<rect x="1170.5" y="701.0" width="27.2" height="67.3" fill="#fb0007" stroke="#8a0a0a" stroke-width="0.7"/>
<rect x="1211.1" y="673.7" width="27.2" height="94.6" fill="#0a14f5" stroke="#0a0a90" stroke-width="0.7"/>
<rect x="1238.3" y="700.0" width="27.2" height="68.3" fill="#fb0007" stroke="#8a0a0a" stroke-width="0.7"/>
<rect x="1278.9" y="699.2" width="27.2" height="69.1" fill="#0a14f5" stroke="#0a0a90" stroke-width="0.7"/>
<rect x="1306.1" y="697.9" width="27.2" height="70.4" fill="#fb0007" stroke="#8a0a0a" stroke-width="0.7"/>
<rect x="1346.7" y="716.9" width="27.2" height="51.4" fill="#0a14f5" stroke="#0a0a90" stroke-width="0.7"/>
<rect x="1373.9" y="706.6" width="27.2" height="61.7" fill="#fb0007" stroke="#8a0a0a" stroke-width="0.7"/>
<rect x="1414.5" y="610.7" width="27.2" height="157.6" fill="#0a14f5" stroke="#0a0a90" stroke-width="0.7"/>
<rect x="1441.7" y="478.2" width="27.2" height="290.1" fill="#fb0007" stroke="#8a0a0a" stroke-width="0.7"/>
<rect x="1482.3" y="687.1" width="27.2" height="81.2" fill="#0a14f5" stroke="#0a0a90" stroke-width="0.7"/>
<rect x="1509.5" y="694.5" width="27.2" height="73.8" fill="#fb0007" stroke="#8a0a0a" stroke-width="0.7"/>
<rect x="1136.6" y="440.8" width="407.0" height="327.5" fill="none" stroke="#1f1f1f" stroke-width="1.5"/>
<line x1="1130.6" y1="440.8" x2="1136.6" y2="440.8" stroke="#1f1f1f" stroke-width="1.5" />
<text x="1124.2" y="446.1" font-size="15" font-weight="bold" text-anchor="end" fill="#000" font-family='"Liberation Sans", sans-serif' stroke="#000" stroke-width="0.3" >10</text>
<line x1="1133.6" y1="498.0" x2="1136.6" y2="498.0" stroke="#1f1f1f" stroke-width="1.1" />
<line x1="1133.6" y1="483.6" x2="1136.6" y2="483.6" stroke="#1f1f1f" stroke-width="1.1" />
<line x1="1133.6" y1="473.4" x2="1136.6" y2="473.4" stroke="#1f1f1f" stroke-width="1.1" />
<line x1="1133.6" y1="465.4" x2="1136.6" y2="465.4" stroke="#1f1f1f" stroke-width="1.1" />
<line x1="1133.6" y1="459.0" x2="1136.6" y2="459.0" stroke="#1f1f1f" stroke-width="1.1" />
<line x1="1133.6" y1="453.5" x2="1136.6" y2="453.5" stroke="#1f1f1f" stroke-width="1.1" />
<line x1="1133.6" y1="448.7" x2="1136.6" y2="448.7" stroke="#1f1f1f" stroke-width="1.1" />
<line x1="1133.6" y1="444.5" x2="1136.6" y2="444.5" stroke="#1f1f1f" stroke-width="1.1" />
<line x1="1130.6" y1="522.6" x2="1136.6" y2="522.6" stroke="#1f1f1f" stroke-width="1.5" />
<text x="1124.2" y="527.9" font-size="15" font-weight="bold" text-anchor="end" fill="#000" font-family='"Liberation Sans", sans-serif' stroke="#000" stroke-width="0.3" >1</text>
<line x1="1133.6" y1="579.9" x2="1136.6" y2="579.9" stroke="#1f1f1f" stroke-width="1.1" />
<line x1="1133.6" y1="565.4" x2="1136.6" y2="565.4" stroke="#1f1f1f" stroke-width="1.1" />
<line x1="1133.6" y1="555.2" x2="1136.6" y2="555.2" stroke="#1f1f1f" stroke-width="1.1" />
<line x1="1133.6" y1="547.3" x2="1136.6" y2="547.3" stroke="#1f1f1f" stroke-width="1.1" />
<line x1="1133.6" y1="540.8" x2="1136.6" y2="540.8" stroke="#1f1f1f" stroke-width="1.1" />
<line x1="1133.6" y1="535.3" x2="1136.6" y2="535.3" stroke="#1f1f1f" stroke-width="1.1" />
<line x1="1133.6" y1="530.6" x2="1136.6" y2="530.6" stroke="#1f1f1f" stroke-width="1.1" />
<line x1="1133.6" y1="526.4" x2="1136.6" y2="526.4" stroke="#1f1f1f" stroke-width="1.1" />
<line x1="1130.6" y1="604.5" x2="1136.6" y2="604.5" stroke="#1f1f1f" stroke-width="1.5" />
<text x="1124.2" y="609.8" font-size="15" font-weight="bold" text-anchor="end" fill="#000" font-family='"Liberation Sans", sans-serif' stroke="#000" stroke-width="0.3" >0.1</text>
<line x1="1133.6" y1="661.7" x2="1136.6" y2="661.7" stroke="#1f1f1f" stroke-width="1.1" />
<line x1="1133.6" y1="647.3" x2="1136.6" y2="647.3" stroke="#1f1f1f" stroke-width="1.1" />
<line x1="1133.6" y1="637.1" x2="1136.6" y2="637.1" stroke="#1f1f1f" stroke-width="1.1" />
<line x1="1133.6" y1="629.1" x2="1136.6" y2="629.1" stroke="#1f1f1f" stroke-width="1.1" />
<line x1="1133.6" y1="622.7" x2="1136.6" y2="622.7" stroke="#1f1f1f" stroke-width="1.1" />
<line x1="1133.6" y1="617.2" x2="1136.6" y2="617.2" stroke="#1f1f1f" stroke-width="1.1" />
<line x1="1133.6" y1="612.4" x2="1136.6" y2="612.4" stroke="#1f1f1f" stroke-width="1.1" />
<line x1="1133.6" y1="608.2" x2="1136.6" y2="608.2" stroke="#1f1f1f" stroke-width="1.1" />
<line x1="1130.6" y1="686.4" x2="1136.6" y2="686.4" stroke="#1f1f1f" stroke-width="1.5" />
<text x="1124.2" y="691.6" font-size="15" font-weight="bold" text-anchor="end" fill="#000" font-family='"Liberation Sans", sans-serif' stroke="#000" stroke-width="0.3" >0.01</text>
<line x1="1133.6" y1="743.6" x2="1136.6" y2="743.6" stroke="#1f1f1f" stroke-width="1.1" />
<line x1="1133.6" y1="729.1" x2="1136.6" y2="729.1" stroke="#1f1f1f" stroke-width="1.1" />
<line x1="1133.6" y1="718.9" x2="1136.6" y2="718.9" stroke="#1f1f1f" stroke-width="1.1" />
<line x1="1133.6" y1="711.0" x2="1136.6" y2="711.0" stroke="#1f1f1f" stroke-width="1.1" />
<line x1="1133.6" y1="704.5" x2="1136.6" y2="704.5" stroke="#1f1f1f" stroke-width="1.1" />
<line x1="1133.6" y1="699.0" x2="1136.6" y2="699.0" stroke="#1f1f1f" stroke-width="1.1" />
<line x1="1133.6" y1="694.3" x2="1136.6" y2="694.3" stroke="#1f1f1f" stroke-width="1.1" />
<line x1="1133.6" y1="690.1" x2="1136.6" y2="690.1" stroke="#1f1f1f" stroke-width="1.1" />
<line x1="1130.6" y1="768.2" x2="1136.6" y2="768.2" stroke="#1f1f1f" stroke-width="1.5" />
<text x="1124.2" y="773.5" font-size="15" font-weight="bold" text-anchor="end" fill="#000" font-family='"Liberation Sans", sans-serif' stroke="#000" stroke-width="0.3" >0.001</text>
<line x1="1170.5" y1="768.3" x2="1170.5" y2="774.3" stroke="#1f1f1f" stroke-width="1.5" />
<line x1="1136.6" y1="768.3" x2="1136.6" y2="771.5" stroke="#1f1f1f" stroke-width="1.5" />
<text x="1170.5" y="788.8" font-size="14.5" font-weight="bold" text-anchor="middle" fill="#000" font-family='"Liberation Sans", sans-serif' stroke="#000" stroke-width="0.3" >PVBPA</text>
<line x1="1238.3" y1="768.3" x2="1238.3" y2="774.3" stroke="#1f1f1f" stroke-width="1.5" />
<line x1="1204.4" y1="768.3" x2="1204.4" y2="771.5" stroke="#1f1f1f" stroke-width="1.5" />
<text x="1238.3" y="788.8" font-size="14.5" font-weight="bold" text-anchor="middle" fill="#000" font-family='"Liberation Sans", sans-serif' stroke="#000" stroke-width="0.3" >PVBPA +</text>
<text x="1238.3" y="807.6" font-size="14.5" font-weight="bold" text-anchor="middle" fill="#000" font-family='"Liberation Sans", sans-serif' stroke="#000" stroke-width="0.3" >Aquivion</text>
<line x1="1306.2" y1="768.3" x2="1306.2" y2="774.3" stroke="#1f1f1f" stroke-width="1.5" />
<line x1="1272.3" y1="768.3" x2="1272.3" y2="771.5" stroke="#1f1f1f" stroke-width="1.5" />
<text x="1306.2" y="788.8" font-size="14.5" font-weight="bold" text-anchor="middle" fill="#000" font-family='"Liberation Sans", sans-serif' stroke="#000" stroke-width="0.3" >PTFSPA</text>
<line x1="1374.0" y1="768.3" x2="1374.0" y2="774.3" stroke="#1f1f1f" stroke-width="1.5" />
<line x1="1340.1" y1="768.3" x2="1340.1" y2="771.5" stroke="#1f1f1f" stroke-width="1.5" />
<text x="1374.0" y="788.8" font-size="14.5" font-weight="bold" text-anchor="middle" fill="#000" font-family='"Liberation Sans", sans-serif' stroke="#000" stroke-width="0.3" >PTFSPA</text>
<text x="1374.0" y="807.6" font-size="14.5" font-weight="bold" text-anchor="middle" fill="#000" font-family='"Liberation Sans", sans-serif' stroke="#000" stroke-width="0.3" >+</text>
<text x="1374.0" y="826.4" font-size="14.5" font-weight="bold" text-anchor="middle" fill="#000" font-family='"Liberation Sans", sans-serif' stroke="#000" stroke-width="0.3" >Aquivion</text>
<line x1="1441.8" y1="768.3" x2="1441.8" y2="774.3" stroke="#1f1f1f" stroke-width="1.5" />
<line x1="1407.9" y1="768.3" x2="1407.9" y2="771.5" stroke="#1f1f1f" stroke-width="1.5" />
<text x="1441.8" y="788.8" font-size="14.5" font-weight="bold" text-anchor="middle" fill="#000" font-family='"Liberation Sans", sans-serif' stroke="#000" stroke-width="0.3" >PVPA</text>
<line x1="1509.7" y1="768.3" x2="1509.7" y2="774.3" stroke="#1f1f1f" stroke-width="1.5" />
<line x1="1475.8" y1="768.3" x2="1475.8" y2="771.5" stroke="#1f1f1f" stroke-width="1.5" />
<text x="1509.7" y="788.8" font-size="14.5" font-weight="bold" text-anchor="middle" fill="#000" font-family='"Liberation Sans", sans-serif' stroke="#000" stroke-width="0.3" >PVPA +</text>
<text x="1509.7" y="807.6" font-size="14.5" font-weight="bold" text-anchor="middle" fill="#000" font-family='"Liberation Sans", sans-serif' stroke="#000" stroke-width="0.3" >Aquivion</text>
<text transform="translate(1089.1,591.4) rotate(-90)" font-size="21" font-weight="bold" text-anchor="middle" textLength="163" lengthAdjust="spacingAndGlyphs" font-family='"Liberation Sans", sans-serif'>Overpotential (η)</text>
<rect x="1146.4" y="447.2" width="39.4" height="19.1" fill="#0a14f5" stroke="#222" stroke-width="0.8"/>
<rect x="1146.4" y="473" width="39.4" height="18.9" fill="#fb0007" stroke="#222" stroke-width="0.8"/>
<text x="1191.8" y="463.4" font-size="20" font-family='"Liberation Sans", sans-serif' fill="#111">η<tspan dy="4" font-size="13.5">act</tspan></text>
<text x="1191.8" y="489.4" font-size="20" font-family='"Liberation Sans", sans-serif' fill="#111">η<tspan dy="4" font-size="13.5">ohm</tspan></text>
<text x="1145.7" y="518" font-size="14.5" font-family='"Liberation Sans", sans-serif' fill="#111" textLength="251" lengthAdjust="spacingAndGlyphs">(Current density = 0.15 A.cm<tspan dy="-5" font-size="9.5">-2</tspan><tspan dy="5">; T=200°C)</tspan></text>
</g>
<g id="caption">
<rect x="65.9" y="837.0" width="1541.1" height="177.85" fill="#d3dcf1" stroke="#000" stroke-width="2.1" stroke-linejoin="round"/>
<text x="89.7" y="878" font-size="31" font-family='"Liberation Serif", serif' fill="#000" stroke="#000" stroke-width="0.3" textLength="1476" lengthAdjust="spacing"><tspan font-weight="bold">Figure 1</tspan>. (a) Electrochemical Hydrogen Pump (EHP) with zoomed in view of the cathode; (b) Polarization curves and</text>
<text x="89.7" y="920" font-size="31" font-family='"Liberation Serif", serif' fill="#000" stroke="#000" stroke-width="0.3" textLength="1444" lengthAdjust="spacing">EIS of EHP with various binders (PTFSPA, PVBPA, PVPA and their blends with Aquivion®) at 200<tspan dy="-1" font-size="37">°</tspan><tspan dy="1">C; (c) and (d)</tspan></text>
<text x="89.7" y="957.2" font-size="31" font-family='"Liberation Serif", serif' fill="#000" stroke="#000" stroke-width="0.3" textLength="1384.5" lengthAdjust="spacing">Charge transfer resistance (R<tspan dy="5" font-size="19">ct</tspan><tspan dy="-5">) and diffusion resistance (</tspan><tspan font-size="20" font-weight="bold">σ</tspan>) obtained from EIS with DC bias of 0.05 V and 0.8V</text>
<text x="89.7" y="993" font-size="31" font-family='"Liberation Serif", serif' fill="#000" stroke="#000" stroke-width="0.3" textLength="1454" lengthAdjust="spacing">respectively; (e) Activation and ohmic overpotential deconvoluted from compositional modeling of the experimental</text>
<path d="M430,963.5 L432,964.8 L434,962.2 L436,964.8 L438,962.2 L440,964.8 L442,962.2 L444,964.8 L446,962.2 L448,964.8 L450,962.2 L452,964.8 L454,962.2 L456,964.8 L458,962.2 L460,964.8 L462,962.2 L464,964.8 L466,962.2" fill="none" stroke="#e02a2a" stroke-width="1"/>
</g>
</svg>
</body></html>
